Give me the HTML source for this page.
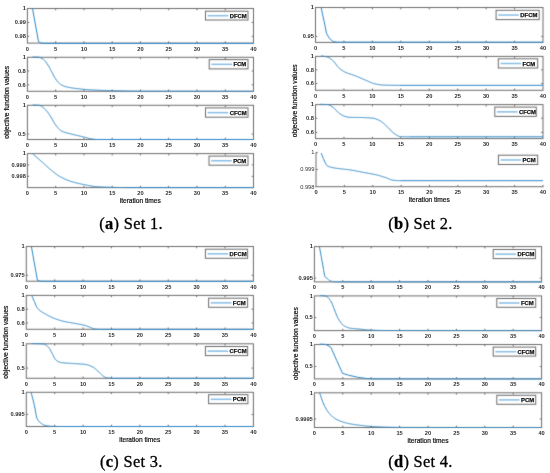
<!DOCTYPE html>
<html><head><meta charset="utf-8"><title>Objective function values vs iteration times</title>
<style>
html,body{margin:0;padding:0;background:#fff;}
body{width:550px;height:473px;overflow:hidden;position:relative;}
svg{position:absolute;left:0;top:0;}
</style></head>
<body>
<svg width="550" height="473" viewBox="0 0 550 473">
<defs><filter id="soft" x="0" y="0" width="550" height="473" filterUnits="userSpaceOnUse" color-interpolation-filters="sRGB"><feConvolveMatrix order="3" kernelMatrix="1 6 1 6 36 6 1 6 1" edgeMode="duplicate" preserveAlpha="true"/></filter></defs>
<g filter="url(#soft)">
<rect width="550" height="473" fill="#fff"/>
<rect x="27.40" y="8.50" width="226.10" height="34.60" fill="none" stroke="#6c6c6c" stroke-width="1"/>
<line x1="55.66" y1="43.10" x2="55.66" y2="41.30" stroke="#6c6c6c" stroke-width="1.0"/>
<line x1="55.66" y1="8.50" x2="55.66" y2="10.30" stroke="#6c6c6c" stroke-width="1.0"/>
<line x1="83.92" y1="43.10" x2="83.92" y2="41.30" stroke="#6c6c6c" stroke-width="1.0"/>
<line x1="83.92" y1="8.50" x2="83.92" y2="10.30" stroke="#6c6c6c" stroke-width="1.0"/>
<line x1="112.19" y1="43.10" x2="112.19" y2="41.30" stroke="#6c6c6c" stroke-width="1.0"/>
<line x1="112.19" y1="8.50" x2="112.19" y2="10.30" stroke="#6c6c6c" stroke-width="1.0"/>
<line x1="140.45" y1="43.10" x2="140.45" y2="41.30" stroke="#6c6c6c" stroke-width="1.0"/>
<line x1="140.45" y1="8.50" x2="140.45" y2="10.30" stroke="#6c6c6c" stroke-width="1.0"/>
<line x1="168.71" y1="43.10" x2="168.71" y2="41.30" stroke="#6c6c6c" stroke-width="1.0"/>
<line x1="168.71" y1="8.50" x2="168.71" y2="10.30" stroke="#6c6c6c" stroke-width="1.0"/>
<line x1="196.97" y1="43.10" x2="196.97" y2="41.30" stroke="#6c6c6c" stroke-width="1.0"/>
<line x1="196.97" y1="8.50" x2="196.97" y2="10.30" stroke="#6c6c6c" stroke-width="1.0"/>
<line x1="225.24" y1="43.10" x2="225.24" y2="41.30" stroke="#6c6c6c" stroke-width="1.0"/>
<line x1="225.24" y1="8.50" x2="225.24" y2="10.30" stroke="#6c6c6c" stroke-width="1.0"/>
<line x1="27.40" y1="22.50" x2="29.20" y2="22.50" stroke="#6c6c6c" stroke-width="1.0"/>
<line x1="253.50" y1="22.50" x2="251.70" y2="22.50" stroke="#6c6c6c" stroke-width="1.0"/>
<line x1="27.40" y1="36.30" x2="29.20" y2="36.30" stroke="#6c6c6c" stroke-width="1.0"/>
<line x1="253.50" y1="36.30" x2="251.70" y2="36.30" stroke="#6c6c6c" stroke-width="1.0"/>
<path d="M32.50,8.50 L38.50,41.60 L40.50,42.90 L43.00,43.40 L253.50,43.40" fill="none" stroke="#2a86c6" stroke-width="1.0" stroke-linejoin="round" stroke-linecap="butt"/>
<rect x="205.50" y="11.20" width="42.50" height="8.80" fill="#fff" stroke="#6c6c6c" stroke-width="1"/>
<line x1="207.70" y1="15.70" x2="228.30" y2="15.70" stroke="#86bde6" stroke-width="1.5"/>
<rect x="27.40" y="57.30" width="226.10" height="34.00" fill="none" stroke="#6c6c6c" stroke-width="1"/>
<line x1="55.66" y1="91.30" x2="55.66" y2="89.50" stroke="#6c6c6c" stroke-width="1.0"/>
<line x1="55.66" y1="57.30" x2="55.66" y2="59.10" stroke="#6c6c6c" stroke-width="1.0"/>
<line x1="83.92" y1="91.30" x2="83.92" y2="89.50" stroke="#6c6c6c" stroke-width="1.0"/>
<line x1="83.92" y1="57.30" x2="83.92" y2="59.10" stroke="#6c6c6c" stroke-width="1.0"/>
<line x1="112.19" y1="91.30" x2="112.19" y2="89.50" stroke="#6c6c6c" stroke-width="1.0"/>
<line x1="112.19" y1="57.30" x2="112.19" y2="59.10" stroke="#6c6c6c" stroke-width="1.0"/>
<line x1="140.45" y1="91.30" x2="140.45" y2="89.50" stroke="#6c6c6c" stroke-width="1.0"/>
<line x1="140.45" y1="57.30" x2="140.45" y2="59.10" stroke="#6c6c6c" stroke-width="1.0"/>
<line x1="168.71" y1="91.30" x2="168.71" y2="89.50" stroke="#6c6c6c" stroke-width="1.0"/>
<line x1="168.71" y1="57.30" x2="168.71" y2="59.10" stroke="#6c6c6c" stroke-width="1.0"/>
<line x1="196.97" y1="91.30" x2="196.97" y2="89.50" stroke="#6c6c6c" stroke-width="1.0"/>
<line x1="196.97" y1="57.30" x2="196.97" y2="59.10" stroke="#6c6c6c" stroke-width="1.0"/>
<line x1="225.24" y1="91.30" x2="225.24" y2="89.50" stroke="#6c6c6c" stroke-width="1.0"/>
<line x1="225.24" y1="57.30" x2="225.24" y2="59.10" stroke="#6c6c6c" stroke-width="1.0"/>
<line x1="27.40" y1="71.00" x2="29.20" y2="71.00" stroke="#6c6c6c" stroke-width="1.0"/>
<line x1="253.50" y1="71.00" x2="251.70" y2="71.00" stroke="#6c6c6c" stroke-width="1.0"/>
<line x1="27.40" y1="84.80" x2="29.20" y2="84.80" stroke="#6c6c6c" stroke-width="1.0"/>
<line x1="253.50" y1="84.80" x2="251.70" y2="84.80" stroke="#6c6c6c" stroke-width="1.0"/>
<path d="M32.50,57.00 L33.04,57.01 L33.58,57.02 L34.12,57.02 L34.66,57.03 L35.20,57.04 L35.74,57.05 L36.28,57.06 L36.82,57.07 L37.36,57.08 L37.90,57.10 L38.40,57.14 L38.90,57.23 L39.40,57.36 L39.90,57.53 L40.40,57.73 L40.90,57.95 L41.40,58.21 L41.90,58.49 L42.40,58.78 L42.90,59.08 L43.40,59.40 L43.90,59.77 L44.40,60.24 L44.90,60.78 L45.40,61.40 L45.90,62.07 L46.40,62.78 L46.90,63.51 L47.40,64.26 L47.90,65.00 L48.41,65.79 L48.93,66.65 L49.44,67.56 L49.96,68.50 L50.47,69.47 L50.99,70.44 L51.50,71.40 L52.06,72.48 L52.62,73.61 L53.18,74.74 L53.74,75.82 L54.30,76.80 L54.81,77.62 L55.33,78.42 L55.84,79.18 L56.36,79.90 L56.87,80.58 L57.39,81.22 L57.90,81.80 L58.41,82.35 L58.93,82.89 L59.44,83.41 L59.96,83.89 L60.47,84.32 L60.99,84.70 L61.50,85.00 L62.03,85.27 L62.57,85.51 L63.10,85.74 L63.63,85.96 L64.17,86.16 L64.70,86.34 L65.23,86.51 L65.77,86.67 L66.30,86.82 L66.83,86.95 L67.37,87.08 L67.90,87.20 L68.41,87.31 L68.91,87.41 L69.42,87.51 L69.92,87.60 L70.43,87.69 L70.93,87.78 L71.44,87.86 L71.94,87.94 L72.45,88.01 L72.96,88.09 L73.46,88.16 L73.97,88.23 L74.47,88.29 L74.98,88.36 L75.48,88.42 L75.99,88.48 L76.49,88.54 L77.00,88.60 L77.50,88.66 L78.00,88.72 L78.50,88.77 L79.00,88.83 L79.50,88.88 L80.00,88.94 L80.50,88.99 L81.00,89.05 L81.50,89.10 L82.00,89.15 L82.50,89.20 L83.00,89.25 L83.50,89.30 L84.00,89.34 L84.50,89.39 L85.00,89.43 L85.50,89.48 L86.00,89.52 L86.50,89.56 L87.00,89.60 L87.50,89.64 L88.00,89.67 L88.50,89.71 L89.00,89.74 L89.50,89.77 L90.00,89.80 L90.50,89.83 L91.00,89.86 L91.50,89.88 L92.00,89.91 L92.50,89.94 L93.00,89.96 L93.50,89.99 L94.00,90.01 L94.50,90.04 L95.00,90.06 L95.50,90.08 L96.00,90.11 L96.50,90.13 L97.00,90.15 L97.50,90.17 L98.00,90.19 L98.50,90.22 L99.00,90.24 L99.50,90.26 L100.00,90.28 L100.50,90.29 L101.00,90.31 L101.50,90.33 L102.00,90.35 L102.50,90.37 L103.00,90.39 L103.50,90.40 L104.00,90.42 L104.50,90.44 L105.00,90.45 L105.50,90.47 L106.00,90.48 L106.50,90.50 L107.00,90.51 L107.50,90.53 L108.00,90.54 L108.50,90.56 L109.00,90.57 L109.50,90.59 L110.00,90.60 L110.50,90.61 L111.00,90.63 L111.50,90.64 L112.00,90.65 L112.50,90.67 L113.00,90.68 L113.50,90.70 L114.00,90.71 L114.50,90.72 L115.00,90.74 L115.50,90.75 L116.00,90.77 L116.50,90.78 L117.00,90.79 L117.50,90.81 L118.00,90.82 L118.50,90.83 L119.00,90.85 L119.50,90.86 L120.00,90.87 L120.50,90.89 L121.00,90.90 L121.50,90.91 L122.00,90.92 L122.50,90.94 L123.00,90.95 L123.50,90.96 L124.00,90.97 L124.50,90.98 L125.00,90.99 L125.50,91.01 L126.00,91.02 L126.50,91.03 L127.00,91.04 L127.50,91.05 L128.00,91.06 L128.50,91.07 L129.00,91.08 L129.50,91.09 L130.00,91.10 L130.50,91.10 L131.00,91.11 L131.50,91.12 L132.00,91.13 L132.50,91.14 L133.00,91.14 L133.50,91.15 L134.00,91.16 L134.50,91.16 L135.00,91.17 L135.50,91.17 L136.00,91.18 L136.50,91.18 L137.00,91.19 L137.50,91.19 L138.00,91.19 L138.50,91.19 L139.00,91.20 L139.50,91.20 L140.00,91.20 L140.50,91.20 L141.00,91.20 L141.50,91.20 L142.00,91.20 L142.50,91.21 L143.00,91.21 L143.50,91.21 L144.00,91.21 L144.50,91.21 L145.00,91.21 L145.50,91.21 L146.00,91.21 L146.50,91.21 L147.00,91.21 L147.50,91.21 L148.00,91.22 L148.50,91.22 L149.00,91.22 L149.50,91.22 L150.00,91.22 L150.50,91.22 L151.00,91.22 L151.50,91.22 L152.00,91.22 L152.50,91.22 L153.00,91.22 L153.50,91.22 L154.00,91.22 L154.50,91.23 L155.00,91.23 L155.50,91.23 L156.00,91.23 L156.50,91.23 L157.00,91.23 L157.50,91.23 L158.00,91.23 L158.50,91.23 L159.00,91.23 L159.50,91.23 L160.00,91.23 L160.50,91.23 L161.00,91.23 L161.50,91.24 L162.00,91.24 L162.50,91.24 L163.00,91.24 L163.50,91.24 L164.00,91.24 L164.50,91.24 L165.00,91.24 L165.50,91.24 L166.00,91.24 L166.50,91.24 L167.00,91.24 L167.50,91.24 L168.00,91.24 L168.50,91.24 L169.00,91.24 L169.50,91.24 L170.00,91.25 L170.50,91.25 L171.00,91.25 L171.50,91.25 L172.00,91.25 L172.50,91.25 L173.00,91.25 L173.50,91.25 L174.00,91.25 L174.50,91.25 L175.00,91.25 L175.50,91.25 L176.00,91.25 L176.50,91.25 L177.00,91.25 L177.50,91.25 L178.00,91.25 L178.50,91.25 L179.00,91.25 L179.50,91.25 L180.00,91.25 L180.50,91.26 L181.00,91.26 L181.50,91.26 L182.00,91.26 L182.50,91.26 L183.00,91.26 L183.50,91.26 L184.00,91.26 L184.50,91.26 L185.00,91.26 L185.50,91.26 L186.00,91.26 L186.50,91.26 L187.00,91.26 L187.50,91.26 L188.00,91.26 L188.50,91.26 L189.00,91.26 L189.50,91.26 L190.00,91.26 L190.50,91.26 L191.00,91.26 L191.50,91.26 L192.00,91.26 L192.50,91.26 L193.00,91.26 L193.50,91.26 L194.00,91.26 L194.50,91.27 L195.00,91.27 L195.50,91.27 L196.00,91.27 L196.50,91.27 L197.00,91.27 L197.50,91.27 L198.00,91.27 L198.50,91.27 L199.00,91.27 L199.50,91.27 L200.00,91.27 L200.50,91.27 L201.00,91.27 L201.50,91.27 L202.00,91.27 L202.50,91.27 L203.00,91.27 L203.50,91.27 L204.00,91.27 L204.50,91.27 L205.00,91.27 L205.50,91.27 L206.00,91.27 L206.50,91.27 L207.00,91.27 L207.50,91.27 L208.00,91.27 L208.50,91.27 L209.00,91.27 L209.50,91.27 L210.00,91.27 L210.50,91.27 L211.00,91.27 L211.50,91.27 L212.00,91.27 L212.50,91.27 L213.00,91.28 L213.50,91.28 L214.00,91.28 L214.50,91.28 L215.00,91.28 L215.50,91.28 L216.00,91.28 L216.50,91.28 L217.00,91.28 L217.50,91.28 L218.00,91.28 L218.50,91.28 L219.00,91.28 L219.50,91.28 L220.00,91.28 L220.50,91.28 L221.00,91.28 L221.50,91.28 L222.00,91.28 L222.50,91.28 L223.00,91.28 L223.50,91.28 L224.00,91.28 L224.50,91.28 L225.00,91.28 L225.50,91.28 L226.00,91.28 L226.50,91.28 L227.00,91.28 L227.50,91.28 L228.00,91.28 L228.50,91.28 L229.00,91.28 L229.50,91.28 L230.00,91.28 L230.50,91.28 L231.00,91.28 L231.50,91.28 L232.00,91.28 L232.50,91.29 L233.00,91.29 L233.50,91.29 L234.00,91.29 L234.50,91.29 L235.00,91.29 L235.50,91.29 L236.00,91.29 L236.50,91.29 L237.00,91.29 L237.50,91.29 L238.00,91.29 L238.50,91.29 L239.00,91.29 L239.50,91.29 L240.00,91.29 L240.50,91.29 L241.00,91.29 L241.50,91.29 L242.00,91.29 L242.50,91.29 L243.00,91.29 L243.50,91.29 L244.00,91.29 L244.50,91.29 L245.00,91.29 L245.50,91.29 L246.00,91.29 L246.50,91.29 L247.00,91.29 L247.50,91.30 L248.00,91.30 L248.50,91.30 L249.00,91.30 L249.50,91.30 L250.00,91.30 L250.50,91.30 L251.00,91.30 L251.50,91.30 L252.00,91.30 L252.50,91.30 L253.00,91.30 L253.50,91.30" fill="none" stroke="#2a86c6" stroke-width="1.0" stroke-linejoin="round" stroke-linecap="butt"/>
<rect x="209.20" y="59.60" width="38.80" height="9.30" fill="#fff" stroke="#6c6c6c" stroke-width="1"/>
<line x1="211.40" y1="64.35" x2="232.00" y2="64.35" stroke="#86bde6" stroke-width="1.5"/>
<rect x="27.40" y="105.30" width="226.10" height="34.20" fill="none" stroke="#6c6c6c" stroke-width="1"/>
<line x1="55.66" y1="139.50" x2="55.66" y2="137.70" stroke="#6c6c6c" stroke-width="1.0"/>
<line x1="55.66" y1="105.30" x2="55.66" y2="107.10" stroke="#6c6c6c" stroke-width="1.0"/>
<line x1="83.92" y1="139.50" x2="83.92" y2="137.70" stroke="#6c6c6c" stroke-width="1.0"/>
<line x1="83.92" y1="105.30" x2="83.92" y2="107.10" stroke="#6c6c6c" stroke-width="1.0"/>
<line x1="112.19" y1="139.50" x2="112.19" y2="137.70" stroke="#6c6c6c" stroke-width="1.0"/>
<line x1="112.19" y1="105.30" x2="112.19" y2="107.10" stroke="#6c6c6c" stroke-width="1.0"/>
<line x1="140.45" y1="139.50" x2="140.45" y2="137.70" stroke="#6c6c6c" stroke-width="1.0"/>
<line x1="140.45" y1="105.30" x2="140.45" y2="107.10" stroke="#6c6c6c" stroke-width="1.0"/>
<line x1="168.71" y1="139.50" x2="168.71" y2="137.70" stroke="#6c6c6c" stroke-width="1.0"/>
<line x1="168.71" y1="105.30" x2="168.71" y2="107.10" stroke="#6c6c6c" stroke-width="1.0"/>
<line x1="196.97" y1="139.50" x2="196.97" y2="137.70" stroke="#6c6c6c" stroke-width="1.0"/>
<line x1="196.97" y1="105.30" x2="196.97" y2="107.10" stroke="#6c6c6c" stroke-width="1.0"/>
<line x1="225.24" y1="139.50" x2="225.24" y2="137.70" stroke="#6c6c6c" stroke-width="1.0"/>
<line x1="225.24" y1="105.30" x2="225.24" y2="107.10" stroke="#6c6c6c" stroke-width="1.0"/>
<line x1="27.40" y1="134.10" x2="29.20" y2="134.10" stroke="#6c6c6c" stroke-width="1.0"/>
<line x1="253.50" y1="134.10" x2="251.70" y2="134.10" stroke="#6c6c6c" stroke-width="1.0"/>
<path d="M32.70,105.00 L33.23,105.02 L33.77,105.04 L34.30,105.06 L34.83,105.08 L35.37,105.10 L35.90,105.11 L36.43,105.13 L36.97,105.16 L37.50,105.19 L38.03,105.22 L38.57,105.26 L39.10,105.30 L39.65,105.40 L40.20,105.58 L40.75,105.83 L41.30,106.15 L41.85,106.50 L42.40,106.89 L42.95,107.29 L43.50,107.70 L44.03,108.12 L44.57,108.61 L45.10,109.14 L45.63,109.73 L46.17,110.35 L46.70,111.02 L47.23,111.71 L47.77,112.42 L48.30,113.16 L48.83,113.90 L49.37,114.65 L49.90,115.40 L50.42,116.17 L50.94,117.00 L51.45,117.89 L51.97,118.81 L52.49,119.76 L53.01,120.70 L53.53,121.63 L54.05,122.54 L54.56,123.39 L55.08,124.19 L55.60,124.90 L56.13,125.58 L56.65,126.26 L57.18,126.94 L57.71,127.59 L58.24,128.22 L58.76,128.82 L59.29,129.37 L59.82,129.87 L60.35,130.32 L60.87,130.70 L61.40,131.00 L61.91,131.24 L62.41,131.47 L62.91,131.68 L63.42,131.88 L63.92,132.07 L64.43,132.24 L64.94,132.41 L65.44,132.56 L65.94,132.71 L66.45,132.84 L66.95,132.98 L67.46,133.11 L67.97,133.23 L68.47,133.35 L68.97,133.47 L69.48,133.59 L69.98,133.72 L70.49,133.84 L71.00,133.97 L71.50,134.10 L72.00,134.23 L72.50,134.36 L73.00,134.49 L73.50,134.61 L74.00,134.73 L74.50,134.85 L75.00,134.97 L75.50,135.09 L76.00,135.20 L76.50,135.32 L77.00,135.43 L77.50,135.54 L78.00,135.65 L78.50,135.76 L79.00,135.88 L79.50,135.99 L80.00,136.10 L80.50,136.21 L81.00,136.33 L81.50,136.44 L82.00,136.56 L82.50,136.68 L83.00,136.80 L83.51,136.93 L84.01,137.06 L84.52,137.19 L85.03,137.33 L85.53,137.47 L86.04,137.61 L86.55,137.75 L87.05,137.89 L87.56,138.03 L88.07,138.16 L88.57,138.28 L89.08,138.40 L89.59,138.51 L90.09,138.61 L90.60,138.70 L91.13,138.79 L91.67,138.88 L92.20,138.97 L92.73,139.06 L93.27,139.15 L93.80,139.23 L94.33,139.31 L94.87,139.37 L95.40,139.42 L95.93,139.47 L96.47,139.49 L97.00,139.50 L253.50,139.50" fill="none" stroke="#2a86c6" stroke-width="1.0" stroke-linejoin="round" stroke-linecap="butt"/>
<rect x="205.50" y="107.90" width="42.50" height="9.30" fill="#fff" stroke="#6c6c6c" stroke-width="1"/>
<line x1="207.70" y1="112.65" x2="228.30" y2="112.65" stroke="#86bde6" stroke-width="1.5"/>
<rect x="27.40" y="153.60" width="226.10" height="34.00" fill="none" stroke="#6c6c6c" stroke-width="1"/>
<line x1="55.66" y1="187.60" x2="55.66" y2="185.80" stroke="#6c6c6c" stroke-width="1.0"/>
<line x1="55.66" y1="153.60" x2="55.66" y2="155.40" stroke="#6c6c6c" stroke-width="1.0"/>
<line x1="83.92" y1="187.60" x2="83.92" y2="185.80" stroke="#6c6c6c" stroke-width="1.0"/>
<line x1="83.92" y1="153.60" x2="83.92" y2="155.40" stroke="#6c6c6c" stroke-width="1.0"/>
<line x1="112.19" y1="187.60" x2="112.19" y2="185.80" stroke="#6c6c6c" stroke-width="1.0"/>
<line x1="112.19" y1="153.60" x2="112.19" y2="155.40" stroke="#6c6c6c" stroke-width="1.0"/>
<line x1="140.45" y1="187.60" x2="140.45" y2="185.80" stroke="#6c6c6c" stroke-width="1.0"/>
<line x1="140.45" y1="153.60" x2="140.45" y2="155.40" stroke="#6c6c6c" stroke-width="1.0"/>
<line x1="168.71" y1="187.60" x2="168.71" y2="185.80" stroke="#6c6c6c" stroke-width="1.0"/>
<line x1="168.71" y1="153.60" x2="168.71" y2="155.40" stroke="#6c6c6c" stroke-width="1.0"/>
<line x1="196.97" y1="187.60" x2="196.97" y2="185.80" stroke="#6c6c6c" stroke-width="1.0"/>
<line x1="196.97" y1="153.60" x2="196.97" y2="155.40" stroke="#6c6c6c" stroke-width="1.0"/>
<line x1="225.24" y1="187.60" x2="225.24" y2="185.80" stroke="#6c6c6c" stroke-width="1.0"/>
<line x1="225.24" y1="153.60" x2="225.24" y2="155.40" stroke="#6c6c6c" stroke-width="1.0"/>
<line x1="27.40" y1="164.90" x2="29.20" y2="164.90" stroke="#6c6c6c" stroke-width="1.0"/>
<line x1="253.50" y1="164.90" x2="251.70" y2="164.90" stroke="#6c6c6c" stroke-width="1.0"/>
<line x1="27.40" y1="176.30" x2="29.20" y2="176.30" stroke="#6c6c6c" stroke-width="1.0"/>
<line x1="253.50" y1="176.30" x2="251.70" y2="176.30" stroke="#6c6c6c" stroke-width="1.0"/>
<path d="M32.50,153.60 L33.00,154.04 L33.50,154.48 L34.00,154.92 L34.50,155.35 L35.00,155.79 L35.50,156.23 L36.00,156.67 L36.50,157.11 L37.00,157.54 L37.50,157.98 L38.00,158.42 L38.50,158.86 L39.00,159.30 L39.50,159.74 L40.00,160.18 L40.50,160.62 L41.00,161.06 L41.50,161.50 L42.01,161.95 L42.51,162.40 L43.02,162.86 L43.52,163.32 L44.03,163.78 L44.53,164.24 L45.04,164.71 L45.54,165.17 L46.05,165.63 L46.56,166.09 L47.06,166.55 L47.57,167.00 L48.07,167.45 L48.58,167.89 L49.08,168.33 L49.59,168.76 L50.09,169.18 L50.60,169.60 L51.11,170.01 L51.61,170.43 L52.12,170.84 L52.62,171.25 L53.13,171.67 L53.63,172.08 L54.14,172.48 L54.64,172.89 L55.15,173.28 L55.66,173.67 L56.16,174.05 L56.67,174.42 L57.17,174.78 L57.68,175.13 L58.18,175.47 L58.69,175.80 L59.19,176.11 L59.70,176.40 L60.22,176.69 L60.74,176.98 L61.26,177.26 L61.78,177.53 L62.30,177.80 L62.81,178.06 L63.33,178.32 L63.85,178.57 L64.37,178.82 L64.89,179.06 L65.41,179.30 L65.93,179.52 L66.45,179.75 L66.97,179.96 L67.49,180.17 L68.00,180.38 L68.52,180.57 L69.04,180.77 L69.56,180.95 L70.08,181.13 L70.60,181.30 L71.11,181.46 L71.62,181.62 L72.14,181.78 L72.65,181.93 L73.16,182.08 L73.67,182.23 L74.18,182.37 L74.70,182.51 L75.21,182.65 L75.72,182.78 L76.23,182.91 L76.74,183.04 L77.26,183.16 L77.77,183.28 L78.28,183.40 L78.79,183.52 L79.30,183.64 L79.82,183.75 L80.33,183.86 L80.84,183.97 L81.35,184.08 L81.86,184.19 L82.38,184.29 L82.89,184.40 L83.40,184.50 L83.91,184.60 L84.42,184.70 L84.92,184.81 L85.43,184.91 L85.94,185.01 L86.45,185.11 L86.96,185.21 L87.46,185.31 L87.97,185.41 L88.48,185.51 L88.99,185.61 L89.50,185.70 L90.00,185.79 L90.51,185.88 L91.02,185.97 L91.53,186.05 L92.04,186.13 L92.54,186.20 L93.05,186.27 L93.56,186.34 L94.07,186.40 L94.58,186.46 L95.08,186.51 L95.59,186.56 L96.10,186.60 L96.60,186.64 L97.10,186.67 L97.60,186.71 L98.10,186.74 L98.60,186.78 L99.10,186.81 L99.60,186.84 L100.10,186.87 L100.60,186.90 L101.10,186.93 L101.60,186.95 L102.10,186.98 L102.60,187.01 L103.10,187.03 L103.60,187.06 L104.10,187.08 L104.60,187.10 L105.10,187.12 L105.60,187.14 L106.10,187.16 L106.60,187.18 L107.10,187.20 L107.60,187.21 L108.10,187.23 L108.60,187.25 L109.10,187.26 L109.60,187.27 L110.10,187.29 L110.60,187.30 L111.11,187.31 L111.62,187.32 L112.13,187.34 L112.64,187.35 L113.15,187.36 L113.66,187.37 L114.17,187.38 L114.68,187.40 L115.19,187.41 L115.71,187.42 L116.22,187.43 L116.73,187.44 L117.24,187.45 L117.75,187.46 L118.26,187.47 L118.77,187.48 L119.28,187.49 L119.79,187.50 L120.30,187.51 L120.81,187.52 L121.32,187.53 L121.83,187.53 L122.34,187.54 L122.85,187.55 L123.36,187.55 L123.87,187.56 L124.38,187.57 L124.89,187.57 L125.41,187.58 L125.92,187.58 L126.43,187.59 L126.94,187.59 L127.45,187.59 L127.96,187.60 L128.47,187.60 L128.98,187.60 L129.49,187.60 L130.00,187.60 L253.50,187.60" fill="none" stroke="#2a86c6" stroke-width="1.0" stroke-linejoin="round" stroke-linecap="butt"/>
<rect x="209.00" y="156.10" width="39.00" height="9.10" fill="#fff" stroke="#6c6c6c" stroke-width="1"/>
<line x1="211.20" y1="160.75" x2="231.80" y2="160.75" stroke="#86bde6" stroke-width="1.5"/>
<rect x="315.50" y="7.50" width="227.50" height="34.90" fill="none" stroke="#6c6c6c" stroke-width="1"/>
<line x1="343.94" y1="42.40" x2="343.94" y2="40.60" stroke="#6c6c6c" stroke-width="1.0"/>
<line x1="343.94" y1="7.50" x2="343.94" y2="9.30" stroke="#6c6c6c" stroke-width="1.0"/>
<line x1="372.38" y1="42.40" x2="372.38" y2="40.60" stroke="#6c6c6c" stroke-width="1.0"/>
<line x1="372.38" y1="7.50" x2="372.38" y2="9.30" stroke="#6c6c6c" stroke-width="1.0"/>
<line x1="400.81" y1="42.40" x2="400.81" y2="40.60" stroke="#6c6c6c" stroke-width="1.0"/>
<line x1="400.81" y1="7.50" x2="400.81" y2="9.30" stroke="#6c6c6c" stroke-width="1.0"/>
<line x1="429.25" y1="42.40" x2="429.25" y2="40.60" stroke="#6c6c6c" stroke-width="1.0"/>
<line x1="429.25" y1="7.50" x2="429.25" y2="9.30" stroke="#6c6c6c" stroke-width="1.0"/>
<line x1="457.69" y1="42.40" x2="457.69" y2="40.60" stroke="#6c6c6c" stroke-width="1.0"/>
<line x1="457.69" y1="7.50" x2="457.69" y2="9.30" stroke="#6c6c6c" stroke-width="1.0"/>
<line x1="486.12" y1="42.40" x2="486.12" y2="40.60" stroke="#6c6c6c" stroke-width="1.0"/>
<line x1="486.12" y1="7.50" x2="486.12" y2="9.30" stroke="#6c6c6c" stroke-width="1.0"/>
<line x1="514.56" y1="42.40" x2="514.56" y2="40.60" stroke="#6c6c6c" stroke-width="1.0"/>
<line x1="514.56" y1="7.50" x2="514.56" y2="9.30" stroke="#6c6c6c" stroke-width="1.0"/>
<line x1="315.50" y1="36.40" x2="317.30" y2="36.40" stroke="#6c6c6c" stroke-width="1.0"/>
<line x1="543.00" y1="36.40" x2="541.20" y2="36.40" stroke="#6c6c6c" stroke-width="1.0"/>
<path d="M321.20,7.80 L323.90,20.40 L326.60,33.60 L329.40,38.40 L333.20,41.60 L337.00,42.20 L543.00,42.20" fill="none" stroke="#2a86c6" stroke-width="1.0" stroke-linejoin="round" stroke-linecap="butt"/>
<rect x="496.10" y="10.30" width="43.10" height="9.30" fill="#fff" stroke="#6c6c6c" stroke-width="1"/>
<line x1="498.30" y1="15.05" x2="518.90" y2="15.05" stroke="#86bde6" stroke-width="1.5"/>
<rect x="315.50" y="56.40" width="227.50" height="33.90" fill="none" stroke="#6c6c6c" stroke-width="1"/>
<line x1="343.94" y1="90.30" x2="343.94" y2="88.50" stroke="#6c6c6c" stroke-width="1.0"/>
<line x1="343.94" y1="56.40" x2="343.94" y2="58.20" stroke="#6c6c6c" stroke-width="1.0"/>
<line x1="372.38" y1="90.30" x2="372.38" y2="88.50" stroke="#6c6c6c" stroke-width="1.0"/>
<line x1="372.38" y1="56.40" x2="372.38" y2="58.20" stroke="#6c6c6c" stroke-width="1.0"/>
<line x1="400.81" y1="90.30" x2="400.81" y2="88.50" stroke="#6c6c6c" stroke-width="1.0"/>
<line x1="400.81" y1="56.40" x2="400.81" y2="58.20" stroke="#6c6c6c" stroke-width="1.0"/>
<line x1="429.25" y1="90.30" x2="429.25" y2="88.50" stroke="#6c6c6c" stroke-width="1.0"/>
<line x1="429.25" y1="56.40" x2="429.25" y2="58.20" stroke="#6c6c6c" stroke-width="1.0"/>
<line x1="457.69" y1="90.30" x2="457.69" y2="88.50" stroke="#6c6c6c" stroke-width="1.0"/>
<line x1="457.69" y1="56.40" x2="457.69" y2="58.20" stroke="#6c6c6c" stroke-width="1.0"/>
<line x1="486.12" y1="90.30" x2="486.12" y2="88.50" stroke="#6c6c6c" stroke-width="1.0"/>
<line x1="486.12" y1="56.40" x2="486.12" y2="58.20" stroke="#6c6c6c" stroke-width="1.0"/>
<line x1="514.56" y1="90.30" x2="514.56" y2="88.50" stroke="#6c6c6c" stroke-width="1.0"/>
<line x1="514.56" y1="56.40" x2="514.56" y2="58.20" stroke="#6c6c6c" stroke-width="1.0"/>
<line x1="315.50" y1="69.80" x2="317.30" y2="69.80" stroke="#6c6c6c" stroke-width="1.0"/>
<line x1="543.00" y1="69.80" x2="541.20" y2="69.80" stroke="#6c6c6c" stroke-width="1.0"/>
<line x1="315.50" y1="83.50" x2="317.30" y2="83.50" stroke="#6c6c6c" stroke-width="1.0"/>
<line x1="543.00" y1="83.50" x2="541.20" y2="83.50" stroke="#6c6c6c" stroke-width="1.0"/>
<path d="M321.20,55.80 L321.72,55.90 L322.25,56.00 L322.77,56.09 L323.30,56.18 L323.82,56.27 L324.35,56.36 L324.88,56.46 L325.40,56.56 L325.93,56.68 L326.45,56.80 L326.98,56.94 L327.50,57.10 L328.00,57.28 L328.50,57.50 L329.00,57.75 L329.50,58.04 L330.00,58.36 L330.50,58.70 L331.00,59.07 L331.50,59.46 L332.00,59.86 L332.50,60.28 L333.00,60.70 L333.50,61.17 L334.00,61.73 L334.50,62.35 L335.00,63.02 L335.50,63.71 L336.00,64.42 L336.50,65.11 L337.00,65.79 L337.50,66.42 L338.00,67.00 L338.50,67.50 L339.02,67.97 L339.55,68.43 L340.07,68.87 L340.60,69.29 L341.12,69.69 L341.65,70.08 L342.18,70.45 L342.70,70.80 L343.23,71.13 L343.75,71.44 L344.28,71.73 L344.80,72.00 L345.30,72.24 L345.80,72.46 L346.30,72.68 L346.80,72.88 L347.30,73.07 L347.80,73.25 L348.30,73.43 L348.80,73.60 L349.30,73.77 L349.80,73.93 L350.30,74.09 L350.80,74.25 L351.30,74.40 L351.80,74.56 L352.30,74.72 L352.80,74.89 L353.30,75.05 L353.80,75.23 L354.30,75.41 L354.80,75.60 L355.32,75.80 L355.84,76.01 L356.36,76.22 L356.88,76.43 L357.40,76.65 L357.91,76.87 L358.43,77.09 L358.95,77.31 L359.47,77.54 L359.99,77.76 L360.51,77.99 L361.03,78.21 L361.55,78.44 L362.07,78.66 L362.59,78.89 L363.10,79.11 L363.62,79.33 L364.14,79.55 L364.66,79.77 L365.18,79.99 L365.70,80.20 L366.21,80.41 L366.71,80.63 L367.22,80.85 L367.72,81.08 L368.23,81.31 L368.73,81.54 L369.24,81.77 L369.74,82.00 L370.25,82.23 L370.76,82.44 L371.26,82.66 L371.77,82.86 L372.27,83.05 L372.78,83.23 L373.28,83.40 L373.79,83.55 L374.29,83.68 L374.80,83.80 L375.31,83.91 L375.81,84.01 L376.32,84.11 L376.82,84.21 L377.33,84.31 L377.83,84.40 L378.34,84.49 L378.84,84.58 L379.35,84.66 L379.86,84.74 L380.36,84.81 L380.87,84.87 L381.37,84.93 L381.88,84.98 L382.38,85.02 L382.89,85.06 L383.39,85.08 L383.90,85.10 L384.40,85.11 L384.91,85.12 L385.41,85.14 L385.91,85.15 L386.42,85.16 L386.92,85.17 L387.42,85.18 L387.92,85.19 L388.43,85.20 L388.93,85.21 L389.43,85.21 L389.94,85.22 L390.44,85.23 L390.94,85.24 L391.45,85.24 L391.95,85.25 L392.45,85.26 L392.96,85.26 L393.46,85.27 L393.96,85.27 L394.47,85.28 L394.97,85.28 L395.47,85.28 L395.98,85.29 L396.48,85.29 L396.98,85.29 L397.48,85.30 L397.99,85.30 L398.49,85.30 L398.99,85.30 L399.50,85.30 L400.00,85.30 L543.00,85.30" fill="none" stroke="#2a86c6" stroke-width="1.0" stroke-linejoin="round" stroke-linecap="butt"/>
<rect x="498.30" y="58.80" width="39.40" height="9.20" fill="#fff" stroke="#6c6c6c" stroke-width="1"/>
<line x1="500.50" y1="63.50" x2="521.10" y2="63.50" stroke="#86bde6" stroke-width="1.5"/>
<rect x="315.50" y="104.60" width="227.50" height="34.00" fill="none" stroke="#6c6c6c" stroke-width="1"/>
<line x1="343.94" y1="138.60" x2="343.94" y2="136.80" stroke="#6c6c6c" stroke-width="1.0"/>
<line x1="343.94" y1="104.60" x2="343.94" y2="106.40" stroke="#6c6c6c" stroke-width="1.0"/>
<line x1="372.38" y1="138.60" x2="372.38" y2="136.80" stroke="#6c6c6c" stroke-width="1.0"/>
<line x1="372.38" y1="104.60" x2="372.38" y2="106.40" stroke="#6c6c6c" stroke-width="1.0"/>
<line x1="400.81" y1="138.60" x2="400.81" y2="136.80" stroke="#6c6c6c" stroke-width="1.0"/>
<line x1="400.81" y1="104.60" x2="400.81" y2="106.40" stroke="#6c6c6c" stroke-width="1.0"/>
<line x1="429.25" y1="138.60" x2="429.25" y2="136.80" stroke="#6c6c6c" stroke-width="1.0"/>
<line x1="429.25" y1="104.60" x2="429.25" y2="106.40" stroke="#6c6c6c" stroke-width="1.0"/>
<line x1="457.69" y1="138.60" x2="457.69" y2="136.80" stroke="#6c6c6c" stroke-width="1.0"/>
<line x1="457.69" y1="104.60" x2="457.69" y2="106.40" stroke="#6c6c6c" stroke-width="1.0"/>
<line x1="486.12" y1="138.60" x2="486.12" y2="136.80" stroke="#6c6c6c" stroke-width="1.0"/>
<line x1="486.12" y1="104.60" x2="486.12" y2="106.40" stroke="#6c6c6c" stroke-width="1.0"/>
<line x1="514.56" y1="138.60" x2="514.56" y2="136.80" stroke="#6c6c6c" stroke-width="1.0"/>
<line x1="514.56" y1="104.60" x2="514.56" y2="106.40" stroke="#6c6c6c" stroke-width="1.0"/>
<line x1="315.50" y1="118.20" x2="317.30" y2="118.20" stroke="#6c6c6c" stroke-width="1.0"/>
<line x1="543.00" y1="118.20" x2="541.20" y2="118.20" stroke="#6c6c6c" stroke-width="1.0"/>
<line x1="315.50" y1="132.40" x2="317.30" y2="132.40" stroke="#6c6c6c" stroke-width="1.0"/>
<line x1="543.00" y1="132.40" x2="541.20" y2="132.40" stroke="#6c6c6c" stroke-width="1.0"/>
<path d="M320.30,104.30 L320.81,104.32 L321.33,104.34 L321.84,104.35 L322.36,104.37 L322.87,104.38 L323.39,104.40 L323.90,104.42 L324.41,104.43 L324.93,104.45 L325.44,104.47 L325.96,104.50 L326.47,104.53 L326.99,104.56 L327.50,104.60 L328.00,104.67 L328.50,104.79 L329.00,104.96 L329.50,105.17 L330.00,105.42 L330.50,105.70 L331.00,106.00 L331.50,106.31 L332.00,106.64 L332.50,106.97 L333.00,107.30 L333.50,107.67 L334.00,108.10 L334.50,108.58 L335.00,109.10 L335.50,109.65 L336.00,110.21 L336.50,110.77 L337.00,111.31 L337.50,111.82 L338.00,112.29 L338.50,112.70 L339.04,113.11 L339.58,113.50 L340.12,113.89 L340.66,114.27 L341.20,114.63 L341.74,114.96 L342.28,115.27 L342.82,115.55 L343.36,115.79 L343.90,116.00 L344.40,116.17 L344.90,116.34 L345.40,116.50 L345.90,116.65 L346.40,116.79 L346.90,116.92 L347.40,117.04 L347.90,117.13 L348.40,117.21 L348.90,117.27 L349.40,117.30 L349.92,117.32 L350.44,117.33 L350.96,117.35 L351.48,117.36 L352.00,117.37 L352.51,117.38 L353.03,117.39 L353.55,117.40 L354.07,117.40 L354.59,117.41 L355.11,117.42 L355.63,117.42 L356.15,117.43 L356.67,117.43 L357.19,117.44 L357.70,117.45 L358.22,117.46 L358.74,117.46 L359.26,117.48 L359.78,117.49 L360.30,117.50 L360.81,117.51 L361.32,117.53 L361.82,117.54 L362.33,117.56 L362.84,117.57 L363.35,117.59 L363.86,117.61 L364.36,117.63 L364.87,117.65 L365.38,117.67 L365.89,117.69 L366.40,117.72 L366.90,117.74 L367.41,117.77 L367.92,117.80 L368.43,117.83 L368.94,117.86 L369.44,117.89 L369.95,117.93 L370.46,117.97 L370.97,118.01 L371.48,118.05 L371.98,118.10 L372.49,118.15 L373.00,118.20 L373.50,118.27 L374.00,118.36 L374.50,118.48 L375.00,118.62 L375.50,118.78 L376.00,118.96 L376.50,119.15 L377.00,119.35 L377.50,119.56 L378.00,119.78 L378.50,120.00 L379.04,120.25 L379.58,120.54 L380.12,120.85 L380.66,121.19 L381.20,121.56 L381.74,121.94 L382.28,122.34 L382.82,122.75 L383.36,123.17 L383.90,123.60 L384.40,124.02 L384.90,124.48 L385.40,124.96 L385.90,125.47 L386.40,125.99 L386.90,126.53 L387.40,127.06 L387.90,127.59 L388.40,128.11 L388.90,128.62 L389.40,129.10 L389.92,129.60 L390.45,130.10 L390.97,130.62 L391.50,131.13 L392.02,131.64 L392.55,132.14 L393.07,132.62 L393.60,133.08 L394.12,133.51 L394.65,133.91 L395.18,134.28 L395.70,134.60 L396.21,134.90 L396.72,135.20 L397.23,135.49 L397.74,135.77 L398.26,136.03 L398.77,136.25 L399.28,136.42 L399.79,136.54 L400.30,136.60 L400.81,136.62 L401.32,136.64 L401.83,136.66 L402.34,136.68 L402.85,136.70 L403.36,136.71 L403.87,136.72 L404.38,136.74 L404.89,136.75 L405.41,136.76 L405.92,136.77 L406.43,136.78 L406.94,136.78 L407.45,136.79 L407.96,136.79 L408.47,136.80 L408.98,136.80 L409.49,136.80 L410.00,136.80 L543.00,136.80" fill="none" stroke="#2a86c6" stroke-width="1.0" stroke-linejoin="round" stroke-linecap="butt"/>
<rect x="494.80" y="107.10" width="41.50" height="9.30" fill="#fff" stroke="#6c6c6c" stroke-width="1"/>
<line x1="497.00" y1="111.85" x2="517.60" y2="111.85" stroke="#86bde6" stroke-width="1.5"/>
<line x1="316.00" y1="152.10" x2="316.00" y2="187.20" stroke="#6c6c6c" stroke-width="1.0"/>
<line x1="315.50" y1="186.70" x2="543.50" y2="186.70" stroke="#6c6c6c" stroke-width="1.0"/>
<line x1="344.38" y1="186.70" x2="344.38" y2="184.90" stroke="#6c6c6c" stroke-width="1.0"/>
<line x1="372.75" y1="186.70" x2="372.75" y2="184.90" stroke="#6c6c6c" stroke-width="1.0"/>
<line x1="401.12" y1="186.70" x2="401.12" y2="184.90" stroke="#6c6c6c" stroke-width="1.0"/>
<line x1="429.50" y1="186.70" x2="429.50" y2="184.90" stroke="#6c6c6c" stroke-width="1.0"/>
<line x1="457.88" y1="186.70" x2="457.88" y2="184.90" stroke="#6c6c6c" stroke-width="1.0"/>
<line x1="486.25" y1="186.70" x2="486.25" y2="184.90" stroke="#6c6c6c" stroke-width="1.0"/>
<line x1="514.62" y1="186.70" x2="514.62" y2="184.90" stroke="#6c6c6c" stroke-width="1.0"/>
<line x1="543.00" y1="186.70" x2="543.00" y2="184.90" stroke="#6c6c6c" stroke-width="1.0"/>
<line x1="316.00" y1="152.60" x2="317.80" y2="152.60" stroke="#6c6c6c" stroke-width="1.0"/>
<line x1="316.00" y1="169.50" x2="317.80" y2="169.50" stroke="#6c6c6c" stroke-width="1.0"/>
<path d="M321.20,153.10 L321.74,154.47 L322.28,155.88 L322.82,157.26 L323.36,158.59 L323.90,159.80 L324.45,161.01 L325.00,162.25 L325.55,163.44 L326.10,164.49 L326.65,165.31 L327.20,165.80 L327.71,166.07 L328.21,166.31 L328.72,166.52 L329.23,166.72 L329.73,166.89 L330.24,167.05 L330.75,167.19 L331.25,167.32 L331.76,167.43 L332.27,167.54 L332.77,167.64 L333.28,167.73 L333.79,167.82 L334.29,167.91 L334.80,168.00 L335.30,168.09 L335.81,168.17 L336.31,168.25 L336.81,168.33 L337.32,168.40 L337.82,168.47 L338.32,168.53 L338.83,168.60 L339.33,168.66 L339.83,168.72 L340.34,168.77 L340.84,168.83 L341.34,168.88 L341.85,168.93 L342.35,168.98 L342.86,169.04 L343.36,169.09 L343.86,169.14 L344.37,169.19 L344.87,169.24 L345.37,169.30 L345.88,169.35 L346.38,169.41 L346.88,169.47 L347.39,169.53 L347.89,169.59 L348.39,169.66 L348.90,169.73 L349.40,169.80 L349.90,169.88 L350.40,169.95 L350.90,170.03 L351.40,170.12 L351.90,170.20 L352.40,170.29 L352.90,170.37 L353.40,170.46 L353.90,170.56 L354.40,170.65 L354.90,170.74 L355.40,170.84 L355.90,170.93 L356.40,171.03 L356.90,171.13 L357.40,171.23 L357.90,171.32 L358.40,171.42 L358.90,171.52 L359.40,171.62 L359.90,171.72 L360.40,171.82 L360.90,171.92 L361.40,172.02 L361.90,172.12 L362.40,172.21 L362.90,172.31 L363.40,172.41 L363.90,172.50 L364.41,172.59 L364.92,172.69 L365.42,172.78 L365.93,172.87 L366.44,172.96 L366.95,173.05 L367.46,173.14 L367.96,173.23 L368.47,173.31 L368.98,173.40 L369.49,173.49 L370.00,173.58 L370.50,173.67 L371.01,173.76 L371.52,173.86 L372.03,173.95 L372.54,174.05 L373.04,174.14 L373.55,174.24 L374.06,174.35 L374.57,174.45 L375.08,174.56 L375.58,174.67 L376.09,174.78 L376.60,174.90 L377.11,175.02 L377.61,175.15 L378.12,175.28 L378.62,175.41 L379.13,175.55 L379.63,175.70 L380.14,175.84 L380.64,175.99 L381.15,176.15 L381.66,176.30 L382.16,176.46 L382.67,176.62 L383.17,176.78 L383.68,176.94 L384.18,177.11 L384.69,177.27 L385.19,177.44 L385.70,177.60 L386.22,177.78 L386.74,177.98 L387.26,178.19 L387.79,178.41 L388.31,178.64 L388.83,178.87 L389.35,179.09 L389.87,179.31 L390.39,179.51 L390.91,179.70 L391.44,179.87 L391.96,180.01 L392.48,180.12 L393.00,180.20 L393.52,180.26 L394.04,180.32 L394.56,180.37 L395.09,180.42 L395.61,180.47 L396.13,180.51 L396.65,180.55 L397.17,180.59 L397.69,180.62 L398.21,180.65 L398.74,180.67 L399.26,180.69 L399.78,180.70 L400.30,180.70 L543.00,180.70" fill="none" stroke="#2a86c6" stroke-width="1.0" stroke-linejoin="round" stroke-linecap="butt"/>
<rect x="498.40" y="155.20" width="39.30" height="9.30" fill="#fff" stroke="#6c6c6c" stroke-width="1"/>
<line x1="500.60" y1="159.95" x2="521.20" y2="159.95" stroke="#86bde6" stroke-width="1.5"/>
<rect x="26.30" y="246.50" width="227.10" height="34.70" fill="none" stroke="#6c6c6c" stroke-width="1"/>
<line x1="54.69" y1="281.20" x2="54.69" y2="279.40" stroke="#6c6c6c" stroke-width="1.0"/>
<line x1="54.69" y1="246.50" x2="54.69" y2="248.30" stroke="#6c6c6c" stroke-width="1.0"/>
<line x1="83.08" y1="281.20" x2="83.08" y2="279.40" stroke="#6c6c6c" stroke-width="1.0"/>
<line x1="83.08" y1="246.50" x2="83.08" y2="248.30" stroke="#6c6c6c" stroke-width="1.0"/>
<line x1="111.46" y1="281.20" x2="111.46" y2="279.40" stroke="#6c6c6c" stroke-width="1.0"/>
<line x1="111.46" y1="246.50" x2="111.46" y2="248.30" stroke="#6c6c6c" stroke-width="1.0"/>
<line x1="139.85" y1="281.20" x2="139.85" y2="279.40" stroke="#6c6c6c" stroke-width="1.0"/>
<line x1="139.85" y1="246.50" x2="139.85" y2="248.30" stroke="#6c6c6c" stroke-width="1.0"/>
<line x1="168.24" y1="281.20" x2="168.24" y2="279.40" stroke="#6c6c6c" stroke-width="1.0"/>
<line x1="168.24" y1="246.50" x2="168.24" y2="248.30" stroke="#6c6c6c" stroke-width="1.0"/>
<line x1="196.62" y1="281.20" x2="196.62" y2="279.40" stroke="#6c6c6c" stroke-width="1.0"/>
<line x1="196.62" y1="246.50" x2="196.62" y2="248.30" stroke="#6c6c6c" stroke-width="1.0"/>
<line x1="225.01" y1="281.20" x2="225.01" y2="279.40" stroke="#6c6c6c" stroke-width="1.0"/>
<line x1="225.01" y1="246.50" x2="225.01" y2="248.30" stroke="#6c6c6c" stroke-width="1.0"/>
<line x1="26.30" y1="275.30" x2="28.10" y2="275.30" stroke="#6c6c6c" stroke-width="1.0"/>
<line x1="253.40" y1="275.30" x2="251.60" y2="275.30" stroke="#6c6c6c" stroke-width="1.0"/>
<path d="M31.40,246.50 L37.40,280.20 L39.50,281.00 L42.00,281.30 L253.40,281.30" fill="none" stroke="#2a86c6" stroke-width="1.0" stroke-linejoin="round" stroke-linecap="butt"/>
<rect x="205.40" y="249.20" width="42.20" height="9.10" fill="#fff" stroke="#6c6c6c" stroke-width="1"/>
<line x1="207.60" y1="253.85" x2="228.20" y2="253.85" stroke="#86bde6" stroke-width="1.5"/>
<rect x="26.30" y="295.40" width="227.10" height="33.90" fill="none" stroke="#6c6c6c" stroke-width="1"/>
<line x1="54.69" y1="329.30" x2="54.69" y2="327.50" stroke="#6c6c6c" stroke-width="1.0"/>
<line x1="54.69" y1="295.40" x2="54.69" y2="297.20" stroke="#6c6c6c" stroke-width="1.0"/>
<line x1="83.08" y1="329.30" x2="83.08" y2="327.50" stroke="#6c6c6c" stroke-width="1.0"/>
<line x1="83.08" y1="295.40" x2="83.08" y2="297.20" stroke="#6c6c6c" stroke-width="1.0"/>
<line x1="111.46" y1="329.30" x2="111.46" y2="327.50" stroke="#6c6c6c" stroke-width="1.0"/>
<line x1="111.46" y1="295.40" x2="111.46" y2="297.20" stroke="#6c6c6c" stroke-width="1.0"/>
<line x1="139.85" y1="329.30" x2="139.85" y2="327.50" stroke="#6c6c6c" stroke-width="1.0"/>
<line x1="139.85" y1="295.40" x2="139.85" y2="297.20" stroke="#6c6c6c" stroke-width="1.0"/>
<line x1="168.24" y1="329.30" x2="168.24" y2="327.50" stroke="#6c6c6c" stroke-width="1.0"/>
<line x1="168.24" y1="295.40" x2="168.24" y2="297.20" stroke="#6c6c6c" stroke-width="1.0"/>
<line x1="196.62" y1="329.30" x2="196.62" y2="327.50" stroke="#6c6c6c" stroke-width="1.0"/>
<line x1="196.62" y1="295.40" x2="196.62" y2="297.20" stroke="#6c6c6c" stroke-width="1.0"/>
<line x1="225.01" y1="329.30" x2="225.01" y2="327.50" stroke="#6c6c6c" stroke-width="1.0"/>
<line x1="225.01" y1="295.40" x2="225.01" y2="297.20" stroke="#6c6c6c" stroke-width="1.0"/>
<line x1="26.30" y1="309.20" x2="28.10" y2="309.20" stroke="#6c6c6c" stroke-width="1.0"/>
<line x1="253.40" y1="309.20" x2="251.60" y2="309.20" stroke="#6c6c6c" stroke-width="1.0"/>
<line x1="26.30" y1="323.00" x2="28.10" y2="323.00" stroke="#6c6c6c" stroke-width="1.0"/>
<line x1="253.40" y1="323.00" x2="251.60" y2="323.00" stroke="#6c6c6c" stroke-width="1.0"/>
<path d="M31.60,295.00 L32.15,296.31 L32.70,297.64 L33.25,298.97 L33.80,300.28 L34.35,301.56 L34.90,302.80 L35.44,304.04 L35.98,305.32 L36.52,306.54 L37.06,307.60 L37.60,308.40 L38.13,309.00 L38.67,309.54 L39.20,310.02 L39.73,310.47 L40.27,310.87 L40.80,311.25 L41.33,311.60 L41.87,311.93 L42.40,312.25 L42.93,312.56 L43.47,312.88 L44.00,313.20 L44.51,313.51 L45.01,313.82 L45.52,314.12 L46.02,314.41 L46.53,314.70 L47.03,314.98 L47.54,315.26 L48.04,315.53 L48.55,315.80 L49.06,316.06 L49.56,316.31 L50.07,316.56 L50.57,316.80 L51.08,317.04 L51.58,317.26 L52.09,317.48 L52.59,317.69 L53.10,317.90 L53.62,318.11 L54.14,318.31 L54.66,318.51 L55.18,318.70 L55.70,318.89 L56.21,319.08 L56.73,319.26 L57.25,319.44 L57.77,319.62 L58.29,319.79 L58.81,319.96 L59.33,320.12 L59.85,320.28 L60.37,320.44 L60.89,320.59 L61.40,320.74 L61.92,320.88 L62.44,321.01 L62.96,321.15 L63.48,321.28 L64.00,321.40 L64.52,321.52 L65.04,321.63 L65.56,321.74 L66.08,321.85 L66.60,321.95 L67.11,322.05 L67.63,322.14 L68.15,322.23 L68.67,322.33 L69.19,322.41 L69.71,322.50 L70.23,322.59 L70.75,322.68 L71.27,322.76 L71.79,322.85 L72.30,322.94 L72.82,323.03 L73.34,323.12 L73.86,323.21 L74.38,323.30 L74.90,323.40 L75.41,323.50 L75.91,323.59 L76.42,323.68 L76.92,323.77 L77.43,323.86 L77.93,323.95 L78.44,324.05 L78.94,324.14 L79.45,324.23 L79.96,324.33 L80.46,324.42 L80.97,324.52 L81.47,324.63 L81.98,324.73 L82.48,324.84 L82.99,324.96 L83.49,325.08 L84.00,325.20 L84.50,325.33 L85.00,325.47 L85.50,325.62 L86.00,325.78 L86.50,325.94 L87.00,326.11 L87.50,326.28 L88.00,326.46 L88.50,326.64 L89.00,326.82 L89.50,327.00 L90.00,327.20 L90.50,327.42 L91.00,327.66 L91.50,327.90 L92.00,328.14 L92.50,328.36 L93.00,328.55 L93.50,328.70 L94.00,328.80 L94.50,328.87 L95.00,328.94 L95.50,329.00 L96.00,329.06 L96.50,329.11 L97.00,329.16 L97.50,329.20 L98.00,329.23 L98.50,329.26 L99.00,329.28 L99.50,329.30 L100.00,329.30 L253.40,329.30" fill="none" stroke="#2a86c6" stroke-width="1.0" stroke-linejoin="round" stroke-linecap="butt"/>
<rect x="208.60" y="298.20" width="39.00" height="9.10" fill="#fff" stroke="#6c6c6c" stroke-width="1"/>
<line x1="210.80" y1="302.85" x2="231.40" y2="302.85" stroke="#86bde6" stroke-width="1.5"/>
<rect x="26.30" y="343.80" width="227.10" height="34.50" fill="none" stroke="#6c6c6c" stroke-width="1"/>
<line x1="54.69" y1="378.30" x2="54.69" y2="376.50" stroke="#6c6c6c" stroke-width="1.0"/>
<line x1="54.69" y1="343.80" x2="54.69" y2="345.60" stroke="#6c6c6c" stroke-width="1.0"/>
<line x1="83.08" y1="378.30" x2="83.08" y2="376.50" stroke="#6c6c6c" stroke-width="1.0"/>
<line x1="83.08" y1="343.80" x2="83.08" y2="345.60" stroke="#6c6c6c" stroke-width="1.0"/>
<line x1="111.46" y1="378.30" x2="111.46" y2="376.50" stroke="#6c6c6c" stroke-width="1.0"/>
<line x1="111.46" y1="343.80" x2="111.46" y2="345.60" stroke="#6c6c6c" stroke-width="1.0"/>
<line x1="139.85" y1="378.30" x2="139.85" y2="376.50" stroke="#6c6c6c" stroke-width="1.0"/>
<line x1="139.85" y1="343.80" x2="139.85" y2="345.60" stroke="#6c6c6c" stroke-width="1.0"/>
<line x1="168.24" y1="378.30" x2="168.24" y2="376.50" stroke="#6c6c6c" stroke-width="1.0"/>
<line x1="168.24" y1="343.80" x2="168.24" y2="345.60" stroke="#6c6c6c" stroke-width="1.0"/>
<line x1="196.62" y1="378.30" x2="196.62" y2="376.50" stroke="#6c6c6c" stroke-width="1.0"/>
<line x1="196.62" y1="343.80" x2="196.62" y2="345.60" stroke="#6c6c6c" stroke-width="1.0"/>
<line x1="225.01" y1="378.30" x2="225.01" y2="376.50" stroke="#6c6c6c" stroke-width="1.0"/>
<line x1="225.01" y1="343.80" x2="225.01" y2="345.60" stroke="#6c6c6c" stroke-width="1.0"/>
<line x1="26.30" y1="368.10" x2="28.10" y2="368.10" stroke="#6c6c6c" stroke-width="1.0"/>
<line x1="253.40" y1="368.10" x2="251.60" y2="368.10" stroke="#6c6c6c" stroke-width="1.0"/>
<path d="M31.60,343.50 L32.10,343.52 L32.60,343.53 L33.10,343.55 L33.60,343.56 L34.10,343.57 L34.60,343.58 L35.10,343.59 L35.60,343.60 L36.10,343.61 L36.60,343.63 L37.10,343.64 L37.60,343.65 L38.10,343.66 L38.60,343.68 L39.10,343.69 L39.60,343.71 L40.10,343.73 L40.60,343.75 L41.10,343.78 L41.60,343.80 L42.10,343.83 L42.60,343.86 L43.10,343.90 L43.64,343.98 L44.18,344.13 L44.72,344.36 L45.26,344.64 L45.80,344.97 L46.34,345.36 L46.88,345.78 L47.42,346.23 L47.96,346.71 L48.50,347.20 L49.03,347.80 L49.56,348.57 L50.09,349.48 L50.61,350.48 L51.14,351.51 L51.67,352.54 L52.20,353.50 L52.71,354.46 L53.23,355.51 L53.74,356.59 L54.26,357.63 L54.77,358.58 L55.29,359.35 L55.80,359.90 L56.30,360.29 L56.80,360.65 L57.30,360.98 L57.80,361.29 L58.30,361.57 L58.80,361.82 L59.30,362.04 L59.80,362.23 L60.30,362.38 L60.80,362.51 L61.30,362.60 L61.80,362.67 L62.30,362.74 L62.80,362.79 L63.30,362.85 L63.80,362.90 L64.30,362.94 L64.80,362.98 L65.30,363.02 L65.80,363.05 L66.30,363.09 L66.80,363.12 L67.30,363.15 L67.80,363.18 L68.30,363.21 L68.80,363.23 L69.30,363.26 L69.80,363.30 L70.30,363.33 L70.80,363.36 L71.30,363.40 L71.80,363.44 L72.30,363.47 L72.80,363.51 L73.30,363.54 L73.80,363.57 L74.30,363.60 L74.80,363.63 L75.30,363.66 L75.80,363.69 L76.30,363.72 L76.80,363.74 L77.30,363.77 L77.80,363.80 L78.30,363.83 L78.80,363.86 L79.30,363.89 L79.80,363.92 L80.30,363.96 L80.80,363.99 L81.30,364.03 L81.80,364.07 L82.30,364.12 L82.80,364.16 L83.30,364.21 L83.80,364.26 L84.30,364.31 L84.80,364.37 L85.30,364.43 L85.80,364.50 L86.32,364.58 L86.84,364.69 L87.36,364.81 L87.89,364.96 L88.41,365.12 L88.93,365.30 L89.45,365.50 L89.97,365.71 L90.49,365.93 L91.01,366.17 L91.54,366.41 L92.06,366.67 L92.58,366.93 L93.10,367.20 L93.64,367.51 L94.18,367.88 L94.72,368.29 L95.26,368.74 L95.80,369.22 L96.34,369.72 L96.88,370.22 L97.42,370.73 L97.96,371.22 L98.50,371.70 L99.00,372.15 L99.50,372.63 L100.00,373.12 L100.50,373.63 L101.00,374.13 L101.50,374.62 L102.00,375.10 L102.50,375.54 L103.00,375.95 L103.50,376.30 L104.00,376.60 L104.51,376.87 L105.03,377.14 L105.54,377.39 L106.06,377.61 L106.57,377.79 L107.09,377.93 L107.60,378.00 L108.13,378.04 L108.66,378.08 L109.19,378.11 L109.71,378.15 L110.24,378.18 L110.77,378.20 L111.30,378.22 L111.83,378.24 L112.36,378.26 L112.89,378.28 L113.41,378.29 L113.94,378.29 L114.47,378.30 L115.00,378.30 L253.40,378.30" fill="none" stroke="#2a86c6" stroke-width="1.0" stroke-linejoin="round" stroke-linecap="butt"/>
<rect x="205.40" y="346.50" width="42.20" height="9.10" fill="#fff" stroke="#6c6c6c" stroke-width="1"/>
<line x1="207.60" y1="351.15" x2="228.20" y2="351.15" stroke="#86bde6" stroke-width="1.5"/>
<rect x="26.30" y="392.30" width="227.10" height="34.20" fill="none" stroke="#6c6c6c" stroke-width="1"/>
<line x1="54.69" y1="426.50" x2="54.69" y2="424.70" stroke="#6c6c6c" stroke-width="1.0"/>
<line x1="54.69" y1="392.30" x2="54.69" y2="394.10" stroke="#6c6c6c" stroke-width="1.0"/>
<line x1="83.08" y1="426.50" x2="83.08" y2="424.70" stroke="#6c6c6c" stroke-width="1.0"/>
<line x1="83.08" y1="392.30" x2="83.08" y2="394.10" stroke="#6c6c6c" stroke-width="1.0"/>
<line x1="111.46" y1="426.50" x2="111.46" y2="424.70" stroke="#6c6c6c" stroke-width="1.0"/>
<line x1="111.46" y1="392.30" x2="111.46" y2="394.10" stroke="#6c6c6c" stroke-width="1.0"/>
<line x1="139.85" y1="426.50" x2="139.85" y2="424.70" stroke="#6c6c6c" stroke-width="1.0"/>
<line x1="139.85" y1="392.30" x2="139.85" y2="394.10" stroke="#6c6c6c" stroke-width="1.0"/>
<line x1="168.24" y1="426.50" x2="168.24" y2="424.70" stroke="#6c6c6c" stroke-width="1.0"/>
<line x1="168.24" y1="392.30" x2="168.24" y2="394.10" stroke="#6c6c6c" stroke-width="1.0"/>
<line x1="196.62" y1="426.50" x2="196.62" y2="424.70" stroke="#6c6c6c" stroke-width="1.0"/>
<line x1="196.62" y1="392.30" x2="196.62" y2="394.10" stroke="#6c6c6c" stroke-width="1.0"/>
<line x1="225.01" y1="426.50" x2="225.01" y2="424.70" stroke="#6c6c6c" stroke-width="1.0"/>
<line x1="225.01" y1="392.30" x2="225.01" y2="394.10" stroke="#6c6c6c" stroke-width="1.0"/>
<line x1="26.30" y1="414.40" x2="28.10" y2="414.40" stroke="#6c6c6c" stroke-width="1.0"/>
<line x1="253.40" y1="414.40" x2="251.60" y2="414.40" stroke="#6c6c6c" stroke-width="1.0"/>
<path d="M31.10,392.40 L31.65,394.53 L32.20,396.63 L32.75,398.72 L33.30,400.85 L33.85,403.07 L34.40,405.40 L34.94,408.11 L35.48,411.22 L36.02,414.30 L36.56,416.91 L37.10,418.60 L37.65,419.61 L38.20,420.45 L38.75,421.14 L39.30,421.73 L39.85,422.24 L40.40,422.70 L40.94,423.14 L41.48,423.55 L42.01,423.95 L42.55,424.31 L43.09,424.63 L43.62,424.91 L44.16,425.13 L44.70,425.30 L45.21,425.42 L45.72,425.54 L46.22,425.65 L46.73,425.75 L47.24,425.85 L47.75,425.93 L48.25,426.01 L48.76,426.08 L49.27,426.14 L49.78,426.20 L50.28,426.24 L50.79,426.27 L51.30,426.30 L51.81,426.32 L52.32,426.34 L52.84,426.36 L53.35,426.38 L53.86,426.39 L54.37,426.41 L54.88,426.43 L55.39,426.44 L55.91,426.45 L56.42,426.46 L56.93,426.47 L57.44,426.48 L57.95,426.49 L58.46,426.49 L58.98,426.50 L59.49,426.50 L60.00,426.50 L253.40,426.50" fill="none" stroke="#2a86c6" stroke-width="1.0" stroke-linejoin="round" stroke-linecap="butt"/>
<rect x="208.60" y="394.70" width="39.30" height="9.00" fill="#fff" stroke="#6c6c6c" stroke-width="1"/>
<line x1="210.80" y1="399.30" x2="231.40" y2="399.30" stroke="#86bde6" stroke-width="1.5"/>
<rect x="314.40" y="246.60" width="227.20" height="35.30" fill="none" stroke="#6c6c6c" stroke-width="1"/>
<line x1="342.80" y1="281.90" x2="342.80" y2="280.10" stroke="#6c6c6c" stroke-width="1.0"/>
<line x1="342.80" y1="246.60" x2="342.80" y2="248.40" stroke="#6c6c6c" stroke-width="1.0"/>
<line x1="371.20" y1="281.90" x2="371.20" y2="280.10" stroke="#6c6c6c" stroke-width="1.0"/>
<line x1="371.20" y1="246.60" x2="371.20" y2="248.40" stroke="#6c6c6c" stroke-width="1.0"/>
<line x1="399.60" y1="281.90" x2="399.60" y2="280.10" stroke="#6c6c6c" stroke-width="1.0"/>
<line x1="399.60" y1="246.60" x2="399.60" y2="248.40" stroke="#6c6c6c" stroke-width="1.0"/>
<line x1="428.00" y1="281.90" x2="428.00" y2="280.10" stroke="#6c6c6c" stroke-width="1.0"/>
<line x1="428.00" y1="246.60" x2="428.00" y2="248.40" stroke="#6c6c6c" stroke-width="1.0"/>
<line x1="456.40" y1="281.90" x2="456.40" y2="280.10" stroke="#6c6c6c" stroke-width="1.0"/>
<line x1="456.40" y1="246.60" x2="456.40" y2="248.40" stroke="#6c6c6c" stroke-width="1.0"/>
<line x1="484.80" y1="281.90" x2="484.80" y2="280.10" stroke="#6c6c6c" stroke-width="1.0"/>
<line x1="484.80" y1="246.60" x2="484.80" y2="248.40" stroke="#6c6c6c" stroke-width="1.0"/>
<line x1="513.20" y1="281.90" x2="513.20" y2="280.10" stroke="#6c6c6c" stroke-width="1.0"/>
<line x1="513.20" y1="246.60" x2="513.20" y2="248.40" stroke="#6c6c6c" stroke-width="1.0"/>
<line x1="314.40" y1="278.10" x2="316.20" y2="278.10" stroke="#6c6c6c" stroke-width="1.0"/>
<line x1="541.60" y1="278.10" x2="539.80" y2="278.10" stroke="#6c6c6c" stroke-width="1.0"/>
<path d="M319.40,246.60 L319.90,249.33 L320.40,252.08 L320.90,254.83 L321.40,257.56 L321.90,260.26 L322.40,262.90 L322.96,266.12 L323.52,269.61 L324.08,272.91 L324.64,275.53 L325.20,277.00 L325.70,277.55 L326.20,277.95 L326.70,278.27 L327.20,278.60 L327.76,279.03 L328.31,279.49 L328.87,279.94 L329.43,280.37 L329.99,280.74 L330.54,281.02 L331.10,281.20 L331.62,281.30 L332.14,281.39 L332.66,281.48 L333.18,281.55 L333.70,281.62 L334.22,281.67 L334.74,281.72 L335.26,281.76 L335.78,281.78 L336.30,281.80 L336.81,281.81 L337.32,281.82 L337.84,281.83 L338.35,281.84 L338.86,281.85 L339.37,281.86 L339.88,281.86 L340.39,281.87 L340.91,281.88 L341.42,281.88 L341.93,281.89 L342.44,281.89 L342.95,281.89 L343.46,281.90 L343.98,281.90 L344.49,281.90 L345.00,281.90 L541.60,281.90" fill="none" stroke="#2a86c6" stroke-width="1.0" stroke-linejoin="round" stroke-linecap="butt"/>
<rect x="493.20" y="249.50" width="42.20" height="9.10" fill="#fff" stroke="#6c6c6c" stroke-width="1"/>
<line x1="495.40" y1="254.15" x2="516.00" y2="254.15" stroke="#86bde6" stroke-width="1.5"/>
<rect x="314.40" y="295.90" width="227.20" height="34.70" fill="none" stroke="#6c6c6c" stroke-width="1"/>
<line x1="342.80" y1="330.60" x2="342.80" y2="328.80" stroke="#6c6c6c" stroke-width="1.0"/>
<line x1="342.80" y1="295.90" x2="342.80" y2="297.70" stroke="#6c6c6c" stroke-width="1.0"/>
<line x1="371.20" y1="330.60" x2="371.20" y2="328.80" stroke="#6c6c6c" stroke-width="1.0"/>
<line x1="371.20" y1="295.90" x2="371.20" y2="297.70" stroke="#6c6c6c" stroke-width="1.0"/>
<line x1="399.60" y1="330.60" x2="399.60" y2="328.80" stroke="#6c6c6c" stroke-width="1.0"/>
<line x1="399.60" y1="295.90" x2="399.60" y2="297.70" stroke="#6c6c6c" stroke-width="1.0"/>
<line x1="428.00" y1="330.60" x2="428.00" y2="328.80" stroke="#6c6c6c" stroke-width="1.0"/>
<line x1="428.00" y1="295.90" x2="428.00" y2="297.70" stroke="#6c6c6c" stroke-width="1.0"/>
<line x1="456.40" y1="330.60" x2="456.40" y2="328.80" stroke="#6c6c6c" stroke-width="1.0"/>
<line x1="456.40" y1="295.90" x2="456.40" y2="297.70" stroke="#6c6c6c" stroke-width="1.0"/>
<line x1="484.80" y1="330.60" x2="484.80" y2="328.80" stroke="#6c6c6c" stroke-width="1.0"/>
<line x1="484.80" y1="295.90" x2="484.80" y2="297.70" stroke="#6c6c6c" stroke-width="1.0"/>
<line x1="513.20" y1="330.60" x2="513.20" y2="328.80" stroke="#6c6c6c" stroke-width="1.0"/>
<line x1="513.20" y1="295.90" x2="513.20" y2="297.70" stroke="#6c6c6c" stroke-width="1.0"/>
<line x1="314.40" y1="317.50" x2="316.20" y2="317.50" stroke="#6c6c6c" stroke-width="1.0"/>
<line x1="541.60" y1="317.50" x2="539.80" y2="317.50" stroke="#6c6c6c" stroke-width="1.0"/>
<path d="M320.00,295.40 L320.53,295.46 L321.05,295.51 L321.58,295.56 L322.11,295.61 L322.64,295.65 L323.16,295.70 L323.69,295.76 L324.22,295.83 L324.75,295.90 L325.27,295.99 L325.80,296.10 L326.31,296.27 L326.82,296.54 L327.33,296.90 L327.84,297.35 L328.35,297.87 L328.86,298.45 L329.37,299.08 L329.88,299.76 L330.39,300.47 L330.90,301.20 L331.41,302.08 L331.93,303.18 L332.44,304.45 L332.96,305.82 L333.47,307.23 L333.99,308.61 L334.50,309.90 L335.03,311.20 L335.56,312.54 L336.09,313.90 L336.61,315.22 L337.14,316.48 L337.67,317.61 L338.20,318.60 L338.71,319.45 L339.22,320.28 L339.73,321.08 L340.24,321.84 L340.75,322.55 L341.26,323.21 L341.77,323.81 L342.28,324.35 L342.79,324.81 L343.30,325.20 L343.80,325.53 L344.30,325.85 L344.80,326.15 L345.30,326.43 L345.80,326.70 L346.30,326.95 L346.80,327.17 L347.30,327.38 L347.80,327.57 L348.30,327.74 L348.80,327.88 L349.30,328.00 L349.80,328.10 L350.31,328.18 L350.82,328.26 L351.33,328.33 L351.84,328.39 L352.35,328.45 L352.86,328.51 L353.37,328.56 L353.88,328.60 L354.39,328.65 L354.90,328.69 L355.41,328.73 L355.92,328.77 L356.43,328.81 L356.94,328.85 L357.45,328.88 L357.96,328.92 L358.47,328.96 L358.98,329.01 L359.49,329.05 L360.00,329.10 L360.51,329.15 L361.02,329.20 L361.53,329.26 L362.04,329.32 L362.55,329.38 L363.06,329.43 L363.57,329.49 L364.08,329.55 L364.59,329.61 L365.10,329.67 L365.61,329.73 L366.12,329.78 L366.63,329.83 L367.14,329.88 L367.65,329.93 L368.16,329.97 L368.67,330.01 L369.18,330.04 L369.69,330.07 L370.20,330.10 L370.71,330.12 L371.22,330.14 L371.73,330.17 L372.24,330.19 L372.75,330.21 L373.26,330.23 L373.77,330.25 L374.28,330.27 L374.79,330.29 L375.30,330.30 L375.81,330.32 L376.32,330.34 L376.83,330.35 L377.34,330.37 L377.86,330.39 L378.37,330.40 L378.88,330.41 L379.39,330.43 L379.90,330.44 L380.41,330.45 L380.92,330.46 L381.43,330.47 L381.94,330.47 L382.45,330.48 L382.96,330.49 L383.47,330.49 L383.98,330.50 L384.49,330.50 L385.00,330.50 L385.50,330.50 L386.00,330.50 L386.50,330.50 L387.00,330.50 L387.50,330.50 L388.00,330.50 L388.50,330.51 L389.00,330.51 L389.50,330.51 L390.00,330.51 L390.50,330.51 L391.00,330.51 L391.50,330.51 L392.00,330.51 L392.50,330.51 L393.01,330.51 L393.51,330.51 L394.01,330.51 L394.51,330.51 L395.01,330.52 L395.51,330.52 L396.01,330.52 L396.51,330.52 L397.01,330.52 L397.51,330.52 L398.01,330.52 L398.51,330.52 L399.01,330.52 L399.51,330.52 L400.01,330.52 L400.51,330.52 L401.01,330.52 L401.51,330.52 L402.01,330.53 L402.51,330.53 L403.01,330.53 L403.51,330.53 L404.01,330.53 L404.51,330.53 L405.01,330.53 L405.51,330.53 L406.01,330.53 L406.51,330.53 L407.01,330.53 L407.51,330.53 L408.01,330.53 L408.52,330.53 L409.02,330.53 L409.52,330.53 L410.02,330.53 L410.52,330.54 L411.02,330.54 L411.52,330.54 L412.02,330.54 L412.52,330.54 L413.02,330.54 L413.52,330.54 L414.02,330.54 L414.52,330.54 L415.02,330.54 L415.52,330.54 L416.02,330.54 L416.52,330.54 L417.02,330.54 L417.52,330.54 L418.02,330.54 L418.52,330.54 L419.02,330.54 L419.52,330.54 L420.02,330.54 L420.52,330.55 L421.02,330.55 L421.52,330.55 L422.02,330.55 L422.52,330.55 L423.02,330.55 L423.52,330.55 L424.02,330.55 L424.53,330.55 L425.03,330.55 L425.53,330.55 L426.03,330.55 L426.53,330.55 L427.03,330.55 L427.53,330.55 L428.03,330.55 L428.53,330.55 L429.03,330.55 L429.53,330.55 L430.03,330.55 L430.53,330.55 L431.03,330.55 L431.53,330.55 L432.03,330.55 L432.53,330.55 L433.03,330.56 L433.53,330.56 L434.03,330.56 L434.53,330.56 L435.03,330.56 L435.53,330.56 L436.03,330.56 L436.53,330.56 L437.03,330.56 L437.53,330.56 L438.03,330.56 L438.53,330.56 L439.03,330.56 L439.53,330.56 L440.04,330.56 L440.54,330.56 L441.04,330.56 L441.54,330.56 L442.04,330.56 L442.54,330.56 L443.04,330.56 L443.54,330.56 L444.04,330.56 L444.54,330.56 L445.04,330.56 L445.54,330.56 L446.04,330.56 L446.54,330.56 L447.04,330.56 L447.54,330.56 L448.04,330.56 L448.54,330.56 L449.04,330.56 L449.54,330.56 L450.04,330.56 L450.54,330.57 L451.04,330.57 L451.54,330.57 L452.04,330.57 L452.54,330.57 L453.04,330.57 L453.54,330.57 L454.04,330.57 L454.54,330.57 L455.04,330.57 L455.55,330.57 L456.05,330.57 L456.55,330.57 L457.05,330.57 L457.55,330.57 L458.05,330.57 L458.55,330.57 L459.05,330.57 L459.55,330.57 L460.05,330.57 L460.55,330.57 L461.05,330.57 L461.55,330.57 L462.05,330.57 L462.55,330.57 L463.05,330.57 L463.55,330.57 L464.05,330.57 L464.55,330.57 L465.05,330.57 L465.55,330.57 L466.05,330.57 L466.55,330.57 L467.05,330.57 L467.55,330.57 L468.05,330.57 L468.55,330.57 L469.05,330.57 L469.55,330.57 L470.05,330.57 L470.55,330.57 L471.05,330.57 L471.56,330.57 L472.06,330.57 L472.56,330.57 L473.06,330.57 L473.56,330.57 L474.06,330.57 L474.56,330.57 L475.06,330.57 L475.56,330.57 L476.06,330.57 L476.56,330.58 L477.06,330.58 L477.56,330.58 L478.06,330.58 L478.56,330.58 L479.06,330.58 L479.56,330.58 L480.06,330.58 L480.56,330.58 L481.06,330.58 L481.56,330.58 L482.06,330.58 L482.56,330.58 L483.06,330.58 L483.56,330.58 L484.06,330.58 L484.56,330.58 L485.06,330.58 L485.56,330.58 L486.06,330.58 L486.56,330.58 L487.07,330.58 L487.57,330.58 L488.07,330.58 L488.57,330.58 L489.07,330.58 L489.57,330.58 L490.07,330.58 L490.57,330.58 L491.07,330.58 L491.57,330.58 L492.07,330.58 L492.57,330.58 L493.07,330.58 L493.57,330.58 L494.07,330.58 L494.57,330.58 L495.07,330.58 L495.57,330.58 L496.07,330.58 L496.57,330.58 L497.07,330.58 L497.57,330.58 L498.07,330.58 L498.57,330.58 L499.07,330.58 L499.57,330.58 L500.07,330.58 L500.57,330.58 L501.07,330.58 L501.57,330.58 L502.07,330.58 L502.58,330.58 L503.08,330.58 L503.58,330.58 L504.08,330.58 L504.58,330.58 L505.08,330.58 L505.58,330.58 L506.08,330.58 L506.58,330.58 L507.08,330.58 L507.58,330.58 L508.08,330.58 L508.58,330.58 L509.08,330.58 L509.58,330.59 L510.08,330.59 L510.58,330.59 L511.08,330.59 L511.58,330.59 L512.08,330.59 L512.58,330.59 L513.08,330.59 L513.58,330.59 L514.08,330.59 L514.58,330.59 L515.08,330.59 L515.58,330.59 L516.08,330.59 L516.58,330.59 L517.08,330.59 L517.58,330.59 L518.08,330.59 L518.59,330.59 L519.09,330.59 L519.59,330.59 L520.09,330.59 L520.59,330.59 L521.09,330.59 L521.59,330.59 L522.09,330.59 L522.59,330.59 L523.09,330.59 L523.59,330.59 L524.09,330.59 L524.59,330.59 L525.09,330.59 L525.59,330.59 L526.09,330.59 L526.59,330.59 L527.09,330.59 L527.59,330.59 L528.09,330.59 L528.59,330.59 L529.09,330.59 L529.59,330.59 L530.09,330.59 L530.59,330.59 L531.09,330.59 L531.59,330.59 L532.09,330.59 L532.59,330.59 L533.09,330.60 L533.59,330.60 L534.10,330.60 L534.60,330.60 L535.10,330.60 L535.60,330.60 L536.10,330.60 L536.60,330.60 L537.10,330.60 L537.60,330.60 L538.10,330.60 L538.60,330.60 L539.10,330.60 L539.60,330.60 L540.10,330.60 L540.60,330.60 L541.10,330.60 L541.60,330.60" fill="none" stroke="#2a86c6" stroke-width="1.0" stroke-linejoin="round" stroke-linecap="butt"/>
<rect x="496.80" y="298.50" width="38.90" height="8.80" fill="#fff" stroke="#6c6c6c" stroke-width="1"/>
<line x1="499.00" y1="303.00" x2="519.60" y2="303.00" stroke="#86bde6" stroke-width="1.5"/>
<rect x="314.40" y="344.50" width="227.20" height="34.40" fill="none" stroke="#6c6c6c" stroke-width="1"/>
<line x1="342.80" y1="378.90" x2="342.80" y2="377.10" stroke="#6c6c6c" stroke-width="1.0"/>
<line x1="342.80" y1="344.50" x2="342.80" y2="346.30" stroke="#6c6c6c" stroke-width="1.0"/>
<line x1="371.20" y1="378.90" x2="371.20" y2="377.10" stroke="#6c6c6c" stroke-width="1.0"/>
<line x1="371.20" y1="344.50" x2="371.20" y2="346.30" stroke="#6c6c6c" stroke-width="1.0"/>
<line x1="399.60" y1="378.90" x2="399.60" y2="377.10" stroke="#6c6c6c" stroke-width="1.0"/>
<line x1="399.60" y1="344.50" x2="399.60" y2="346.30" stroke="#6c6c6c" stroke-width="1.0"/>
<line x1="428.00" y1="378.90" x2="428.00" y2="377.10" stroke="#6c6c6c" stroke-width="1.0"/>
<line x1="428.00" y1="344.50" x2="428.00" y2="346.30" stroke="#6c6c6c" stroke-width="1.0"/>
<line x1="456.40" y1="378.90" x2="456.40" y2="377.10" stroke="#6c6c6c" stroke-width="1.0"/>
<line x1="456.40" y1="344.50" x2="456.40" y2="346.30" stroke="#6c6c6c" stroke-width="1.0"/>
<line x1="484.80" y1="378.90" x2="484.80" y2="377.10" stroke="#6c6c6c" stroke-width="1.0"/>
<line x1="484.80" y1="344.50" x2="484.80" y2="346.30" stroke="#6c6c6c" stroke-width="1.0"/>
<line x1="513.20" y1="378.90" x2="513.20" y2="377.10" stroke="#6c6c6c" stroke-width="1.0"/>
<line x1="513.20" y1="344.50" x2="513.20" y2="346.30" stroke="#6c6c6c" stroke-width="1.0"/>
<line x1="314.40" y1="366.50" x2="316.20" y2="366.50" stroke="#6c6c6c" stroke-width="1.0"/>
<line x1="541.60" y1="366.50" x2="539.80" y2="366.50" stroke="#6c6c6c" stroke-width="1.0"/>
<path d="M320.00,344.10 L325.80,344.40 L330.90,347.30 L336.70,360.40 L342.50,373.30 L348.40,375.20 L358.50,377.40 L367.30,378.60 L375.00,378.90 L541.60,378.90" fill="none" stroke="#2a86c6" stroke-width="1.0" stroke-linejoin="round" stroke-linecap="butt"/>
<rect x="493.20" y="347.10" width="42.50" height="9.00" fill="#fff" stroke="#6c6c6c" stroke-width="1"/>
<line x1="495.40" y1="351.70" x2="516.00" y2="351.70" stroke="#86bde6" stroke-width="1.5"/>
<rect x="314.40" y="392.80" width="227.20" height="34.70" fill="none" stroke="#6c6c6c" stroke-width="1"/>
<line x1="342.80" y1="427.50" x2="342.80" y2="425.70" stroke="#6c6c6c" stroke-width="1.0"/>
<line x1="342.80" y1="392.80" x2="342.80" y2="394.60" stroke="#6c6c6c" stroke-width="1.0"/>
<line x1="371.20" y1="427.50" x2="371.20" y2="425.70" stroke="#6c6c6c" stroke-width="1.0"/>
<line x1="371.20" y1="392.80" x2="371.20" y2="394.60" stroke="#6c6c6c" stroke-width="1.0"/>
<line x1="399.60" y1="427.50" x2="399.60" y2="425.70" stroke="#6c6c6c" stroke-width="1.0"/>
<line x1="399.60" y1="392.80" x2="399.60" y2="394.60" stroke="#6c6c6c" stroke-width="1.0"/>
<line x1="428.00" y1="427.50" x2="428.00" y2="425.70" stroke="#6c6c6c" stroke-width="1.0"/>
<line x1="428.00" y1="392.80" x2="428.00" y2="394.60" stroke="#6c6c6c" stroke-width="1.0"/>
<line x1="456.40" y1="427.50" x2="456.40" y2="425.70" stroke="#6c6c6c" stroke-width="1.0"/>
<line x1="456.40" y1="392.80" x2="456.40" y2="394.60" stroke="#6c6c6c" stroke-width="1.0"/>
<line x1="484.80" y1="427.50" x2="484.80" y2="425.70" stroke="#6c6c6c" stroke-width="1.0"/>
<line x1="484.80" y1="392.80" x2="484.80" y2="394.60" stroke="#6c6c6c" stroke-width="1.0"/>
<line x1="513.20" y1="427.50" x2="513.20" y2="425.70" stroke="#6c6c6c" stroke-width="1.0"/>
<line x1="513.20" y1="392.80" x2="513.20" y2="394.60" stroke="#6c6c6c" stroke-width="1.0"/>
<line x1="314.40" y1="419.00" x2="316.20" y2="419.00" stroke="#6c6c6c" stroke-width="1.0"/>
<line x1="541.60" y1="419.00" x2="539.80" y2="419.00" stroke="#6c6c6c" stroke-width="1.0"/>
<path d="M319.60,393.00 L320.11,394.36 L320.62,395.77 L321.13,397.22 L321.64,398.66 L322.15,400.10 L322.66,401.50 L323.17,402.84 L323.68,404.10 L324.19,405.26 L324.70,406.30 L325.20,407.24 L325.70,408.14 L326.20,409.01 L326.70,409.84 L327.20,410.64 L327.70,411.39 L328.20,412.10 L328.70,412.77 L329.20,413.40 L329.70,413.97 L330.20,414.50 L330.72,415.01 L331.24,415.51 L331.76,415.98 L332.29,416.44 L332.81,416.88 L333.33,417.29 L333.85,417.69 L334.37,418.07 L334.89,418.42 L335.41,418.76 L335.94,419.07 L336.46,419.37 L336.98,419.65 L337.50,419.90 L338.02,420.14 L338.54,420.37 L339.06,420.60 L339.58,420.81 L340.10,421.02 L340.61,421.23 L341.13,421.42 L341.65,421.61 L342.17,421.79 L342.69,421.97 L343.21,422.14 L343.73,422.30 L344.25,422.46 L344.77,422.61 L345.29,422.75 L345.80,422.89 L346.32,423.03 L346.84,423.15 L347.36,423.27 L347.88,423.39 L348.40,423.50 L348.91,423.60 L349.42,423.70 L349.92,423.80 L350.43,423.90 L350.94,423.99 L351.45,424.08 L351.96,424.16 L352.46,424.24 L352.97,424.32 L353.48,424.40 L353.99,424.48 L354.50,424.55 L355.00,424.63 L355.51,424.70 L356.02,424.77 L356.53,424.83 L357.04,424.90 L357.54,424.96 L358.05,425.03 L358.56,425.09 L359.07,425.15 L359.58,425.22 L360.08,425.28 L360.59,425.34 L361.10,425.40 L361.62,425.46 L362.14,425.52 L362.66,425.59 L363.18,425.65 L363.70,425.71 L364.21,425.77 L364.73,425.83 L365.25,425.88 L365.77,425.94 L366.29,426.00 L366.81,426.05 L367.33,426.11 L367.85,426.16 L368.37,426.21 L368.89,426.25 L369.40,426.30 L369.92,426.35 L370.44,426.39 L370.96,426.43 L371.48,426.46 L372.00,426.50 L372.51,426.53 L373.02,426.56 L373.52,426.60 L374.03,426.63 L374.54,426.66 L375.05,426.69 L375.56,426.71 L376.06,426.74 L376.57,426.77 L377.08,426.80 L377.59,426.82 L378.10,426.85 L378.60,426.87 L379.11,426.89 L379.62,426.92 L380.13,426.94 L380.64,426.96 L381.14,426.98 L381.65,427.00 L382.16,427.02 L382.67,427.04 L383.18,427.05 L383.68,427.07 L384.19,427.09 L384.70,427.10 L385.21,427.11 L385.72,427.13 L386.23,427.14 L386.74,427.16 L387.25,427.17 L387.76,427.19 L388.27,427.20 L388.78,427.21 L389.29,427.23 L389.80,427.24 L390.31,427.25 L390.82,427.26 L391.33,427.28 L391.84,427.29 L392.35,427.30 L392.86,427.31 L393.37,427.32 L393.88,427.33 L394.39,427.34 L394.90,427.35 L395.41,427.36 L395.92,427.37 L396.43,427.37 L396.94,427.38 L397.45,427.38 L397.96,427.39 L398.47,427.39 L398.98,427.40 L399.49,427.40 L400.00,427.40 L400.50,427.40 L401.00,427.40 L401.50,427.40 L402.00,427.40 L402.50,427.40 L403.00,427.41 L403.50,427.41 L404.00,427.41 L404.50,427.41 L405.00,427.41 L405.50,427.41 L406.00,427.41 L406.50,427.41 L407.00,427.41 L407.51,427.41 L408.01,427.41 L408.51,427.41 L409.01,427.42 L409.51,427.42 L410.01,427.42 L410.51,427.42 L411.01,427.42 L411.51,427.42 L412.01,427.42 L412.51,427.42 L413.01,427.42 L413.51,427.42 L414.01,427.42 L414.51,427.42 L415.01,427.42 L415.51,427.42 L416.01,427.43 L416.51,427.43 L417.01,427.43 L417.51,427.43 L418.01,427.43 L418.51,427.43 L419.01,427.43 L419.51,427.43 L420.01,427.43 L420.51,427.43 L421.01,427.43 L421.52,427.43 L422.02,427.43 L422.52,427.43 L423.02,427.43 L423.52,427.43 L424.02,427.44 L424.52,427.44 L425.02,427.44 L425.52,427.44 L426.02,427.44 L426.52,427.44 L427.02,427.44 L427.52,427.44 L428.02,427.44 L428.52,427.44 L429.02,427.44 L429.52,427.44 L430.02,427.44 L430.52,427.44 L431.02,427.44 L431.52,427.44 L432.02,427.44 L432.52,427.44 L433.02,427.44 L433.52,427.45 L434.02,427.45 L434.52,427.45 L435.02,427.45 L435.53,427.45 L436.03,427.45 L436.53,427.45 L437.03,427.45 L437.53,427.45 L438.03,427.45 L438.53,427.45 L439.03,427.45 L439.53,427.45 L440.03,427.45 L440.53,427.45 L441.03,427.45 L441.53,427.45 L442.03,427.45 L442.53,427.45 L443.03,427.45 L443.53,427.45 L444.03,427.45 L444.53,427.45 L445.03,427.46 L445.53,427.46 L446.03,427.46 L446.53,427.46 L447.03,427.46 L447.53,427.46 L448.03,427.46 L448.53,427.46 L449.03,427.46 L449.53,427.46 L450.04,427.46 L450.54,427.46 L451.04,427.46 L451.54,427.46 L452.04,427.46 L452.54,427.46 L453.04,427.46 L453.54,427.46 L454.04,427.46 L454.54,427.46 L455.04,427.46 L455.54,427.46 L456.04,427.46 L456.54,427.46 L457.04,427.46 L457.54,427.46 L458.04,427.46 L458.54,427.46 L459.04,427.46 L459.54,427.46 L460.04,427.46 L460.54,427.46 L461.04,427.47 L461.54,427.47 L462.04,427.47 L462.54,427.47 L463.04,427.47 L463.54,427.47 L464.05,427.47 L464.55,427.47 L465.05,427.47 L465.55,427.47 L466.05,427.47 L466.55,427.47 L467.05,427.47 L467.55,427.47 L468.05,427.47 L468.55,427.47 L469.05,427.47 L469.55,427.47 L470.05,427.47 L470.55,427.47 L471.05,427.47 L471.55,427.47 L472.05,427.47 L472.55,427.47 L473.05,427.47 L473.55,427.47 L474.05,427.47 L474.55,427.47 L475.05,427.47 L475.55,427.47 L476.05,427.47 L476.55,427.47 L477.05,427.47 L477.55,427.47 L478.06,427.47 L478.56,427.47 L479.06,427.47 L479.56,427.47 L480.06,427.47 L480.56,427.47 L481.06,427.47 L481.56,427.47 L482.06,427.47 L482.56,427.47 L483.06,427.47 L483.56,427.47 L484.06,427.47 L484.56,427.47 L485.06,427.48 L485.56,427.48 L486.06,427.48 L486.56,427.48 L487.06,427.48 L487.56,427.48 L488.06,427.48 L488.56,427.48 L489.06,427.48 L489.56,427.48 L490.06,427.48 L490.56,427.48 L491.06,427.48 L491.56,427.48 L492.07,427.48 L492.57,427.48 L493.07,427.48 L493.57,427.48 L494.07,427.48 L494.57,427.48 L495.07,427.48 L495.57,427.48 L496.07,427.48 L496.57,427.48 L497.07,427.48 L497.57,427.48 L498.07,427.48 L498.57,427.48 L499.07,427.48 L499.57,427.48 L500.07,427.48 L500.57,427.48 L501.07,427.48 L501.57,427.48 L502.07,427.48 L502.57,427.48 L503.07,427.48 L503.57,427.48 L504.07,427.48 L504.57,427.48 L505.07,427.48 L505.57,427.48 L506.07,427.48 L506.58,427.48 L507.08,427.48 L507.58,427.48 L508.08,427.48 L508.58,427.48 L509.08,427.48 L509.58,427.48 L510.08,427.48 L510.58,427.48 L511.08,427.48 L511.58,427.48 L512.08,427.48 L512.58,427.48 L513.08,427.48 L513.58,427.49 L514.08,427.49 L514.58,427.49 L515.08,427.49 L515.58,427.49 L516.08,427.49 L516.58,427.49 L517.08,427.49 L517.58,427.49 L518.08,427.49 L518.58,427.49 L519.08,427.49 L519.58,427.49 L520.08,427.49 L520.59,427.49 L521.09,427.49 L521.59,427.49 L522.09,427.49 L522.59,427.49 L523.09,427.49 L523.59,427.49 L524.09,427.49 L524.59,427.49 L525.09,427.49 L525.59,427.49 L526.09,427.49 L526.59,427.49 L527.09,427.49 L527.59,427.49 L528.09,427.49 L528.59,427.49 L529.09,427.49 L529.59,427.49 L530.09,427.49 L530.59,427.49 L531.09,427.49 L531.59,427.49 L532.09,427.49 L532.59,427.49 L533.09,427.49 L533.59,427.49 L534.09,427.50 L534.60,427.50 L535.10,427.50 L535.60,427.50 L536.10,427.50 L536.60,427.50 L537.10,427.50 L537.60,427.50 L538.10,427.50 L538.60,427.50 L539.10,427.50 L539.60,427.50 L540.10,427.50 L540.60,427.50 L541.10,427.50 L541.60,427.50" fill="none" stroke="#2a86c6" stroke-width="1.0" stroke-linejoin="round" stroke-linecap="butt"/>
<rect x="496.80" y="395.30" width="38.90" height="9.00" fill="#fff" stroke="#6c6c6c" stroke-width="1"/>
<line x1="499.00" y1="399.90" x2="519.60" y2="399.90" stroke="#86bde6" stroke-width="1.5"/>
</g>
<g>
<text x="27.40" y="50.50" font-family="Liberation Sans, sans-serif" font-size="5.7" font-weight="bold" fill="#2e2e2e" text-anchor="middle">0</text>
<text x="55.66" y="50.50" font-family="Liberation Sans, sans-serif" font-size="5.7" font-weight="bold" fill="#2e2e2e" text-anchor="middle">5</text>
<text x="83.92" y="50.50" font-family="Liberation Sans, sans-serif" font-size="5.7" font-weight="bold" fill="#2e2e2e" text-anchor="middle">10</text>
<text x="112.19" y="50.50" font-family="Liberation Sans, sans-serif" font-size="5.7" font-weight="bold" fill="#2e2e2e" text-anchor="middle">15</text>
<text x="140.45" y="50.50" font-family="Liberation Sans, sans-serif" font-size="5.7" font-weight="bold" fill="#2e2e2e" text-anchor="middle">20</text>
<text x="168.71" y="50.50" font-family="Liberation Sans, sans-serif" font-size="5.7" font-weight="bold" fill="#2e2e2e" text-anchor="middle">25</text>
<text x="196.97" y="50.50" font-family="Liberation Sans, sans-serif" font-size="5.7" font-weight="bold" fill="#2e2e2e" text-anchor="middle">30</text>
<text x="225.24" y="50.50" font-family="Liberation Sans, sans-serif" font-size="5.7" font-weight="bold" fill="#2e2e2e" text-anchor="middle">35</text>
<text x="253.50" y="50.50" font-family="Liberation Sans, sans-serif" font-size="5.7" font-weight="bold" fill="#2e2e2e" text-anchor="middle">40</text>
<text x="25.80" y="10.30" font-family="Liberation Sans, sans-serif" font-size="5.7" font-weight="bold" fill="#2e2e2e" text-anchor="end">1</text>
<text x="25.80" y="24.30" font-family="Liberation Sans, sans-serif" font-size="5.7" font-weight="bold" fill="#2e2e2e" text-anchor="end">0.99</text>
<text x="25.80" y="38.10" font-family="Liberation Sans, sans-serif" font-size="5.7" font-weight="bold" fill="#2e2e2e" text-anchor="end">0.98</text>
<text x="229.70" y="17.70" font-family="Liberation Sans, sans-serif" font-size="5.9" font-weight="bold" fill="#111111" text-anchor="start" stroke="#111" stroke-width="0.25">DFCM</text>
<text x="27.40" y="98.70" font-family="Liberation Sans, sans-serif" font-size="5.7" font-weight="bold" fill="#2e2e2e" text-anchor="middle">0</text>
<text x="55.66" y="98.70" font-family="Liberation Sans, sans-serif" font-size="5.7" font-weight="bold" fill="#2e2e2e" text-anchor="middle">5</text>
<text x="83.92" y="98.70" font-family="Liberation Sans, sans-serif" font-size="5.7" font-weight="bold" fill="#2e2e2e" text-anchor="middle">10</text>
<text x="112.19" y="98.70" font-family="Liberation Sans, sans-serif" font-size="5.7" font-weight="bold" fill="#2e2e2e" text-anchor="middle">15</text>
<text x="140.45" y="98.70" font-family="Liberation Sans, sans-serif" font-size="5.7" font-weight="bold" fill="#2e2e2e" text-anchor="middle">20</text>
<text x="168.71" y="98.70" font-family="Liberation Sans, sans-serif" font-size="5.7" font-weight="bold" fill="#2e2e2e" text-anchor="middle">25</text>
<text x="196.97" y="98.70" font-family="Liberation Sans, sans-serif" font-size="5.7" font-weight="bold" fill="#2e2e2e" text-anchor="middle">30</text>
<text x="225.24" y="98.70" font-family="Liberation Sans, sans-serif" font-size="5.7" font-weight="bold" fill="#2e2e2e" text-anchor="middle">35</text>
<text x="253.50" y="98.70" font-family="Liberation Sans, sans-serif" font-size="5.7" font-weight="bold" fill="#2e2e2e" text-anchor="middle">40</text>
<text x="25.80" y="59.10" font-family="Liberation Sans, sans-serif" font-size="5.7" font-weight="bold" fill="#2e2e2e" text-anchor="end">1</text>
<text x="25.80" y="72.80" font-family="Liberation Sans, sans-serif" font-size="5.7" font-weight="bold" fill="#2e2e2e" text-anchor="end">0.8</text>
<text x="25.80" y="86.60" font-family="Liberation Sans, sans-serif" font-size="5.7" font-weight="bold" fill="#2e2e2e" text-anchor="end">0.6</text>
<text x="233.40" y="66.35" font-family="Liberation Sans, sans-serif" font-size="5.9" font-weight="bold" fill="#111111" text-anchor="start" stroke="#111" stroke-width="0.25">FCM</text>
<text x="27.40" y="146.90" font-family="Liberation Sans, sans-serif" font-size="5.7" font-weight="bold" fill="#2e2e2e" text-anchor="middle">0</text>
<text x="55.66" y="146.90" font-family="Liberation Sans, sans-serif" font-size="5.7" font-weight="bold" fill="#2e2e2e" text-anchor="middle">5</text>
<text x="83.92" y="146.90" font-family="Liberation Sans, sans-serif" font-size="5.7" font-weight="bold" fill="#2e2e2e" text-anchor="middle">10</text>
<text x="112.19" y="146.90" font-family="Liberation Sans, sans-serif" font-size="5.7" font-weight="bold" fill="#2e2e2e" text-anchor="middle">15</text>
<text x="140.45" y="146.90" font-family="Liberation Sans, sans-serif" font-size="5.7" font-weight="bold" fill="#2e2e2e" text-anchor="middle">20</text>
<text x="168.71" y="146.90" font-family="Liberation Sans, sans-serif" font-size="5.7" font-weight="bold" fill="#2e2e2e" text-anchor="middle">25</text>
<text x="196.97" y="146.90" font-family="Liberation Sans, sans-serif" font-size="5.7" font-weight="bold" fill="#2e2e2e" text-anchor="middle">30</text>
<text x="225.24" y="146.90" font-family="Liberation Sans, sans-serif" font-size="5.7" font-weight="bold" fill="#2e2e2e" text-anchor="middle">35</text>
<text x="253.50" y="146.90" font-family="Liberation Sans, sans-serif" font-size="5.7" font-weight="bold" fill="#2e2e2e" text-anchor="middle">40</text>
<text x="25.80" y="107.10" font-family="Liberation Sans, sans-serif" font-size="5.7" font-weight="bold" fill="#2e2e2e" text-anchor="end">1</text>
<text x="25.80" y="135.90" font-family="Liberation Sans, sans-serif" font-size="5.7" font-weight="bold" fill="#2e2e2e" text-anchor="end">0.5</text>
<text x="229.70" y="114.65" font-family="Liberation Sans, sans-serif" font-size="5.9" font-weight="bold" fill="#111111" text-anchor="start" stroke="#111" stroke-width="0.25">CFCM</text>
<text x="27.40" y="195.00" font-family="Liberation Sans, sans-serif" font-size="5.7" font-weight="bold" fill="#2e2e2e" text-anchor="middle">0</text>
<text x="55.66" y="195.00" font-family="Liberation Sans, sans-serif" font-size="5.7" font-weight="bold" fill="#2e2e2e" text-anchor="middle">5</text>
<text x="83.92" y="195.00" font-family="Liberation Sans, sans-serif" font-size="5.7" font-weight="bold" fill="#2e2e2e" text-anchor="middle">10</text>
<text x="112.19" y="195.00" font-family="Liberation Sans, sans-serif" font-size="5.7" font-weight="bold" fill="#2e2e2e" text-anchor="middle">15</text>
<text x="140.45" y="195.00" font-family="Liberation Sans, sans-serif" font-size="5.7" font-weight="bold" fill="#2e2e2e" text-anchor="middle">20</text>
<text x="168.71" y="195.00" font-family="Liberation Sans, sans-serif" font-size="5.7" font-weight="bold" fill="#2e2e2e" text-anchor="middle">25</text>
<text x="196.97" y="195.00" font-family="Liberation Sans, sans-serif" font-size="5.7" font-weight="bold" fill="#2e2e2e" text-anchor="middle">30</text>
<text x="225.24" y="195.00" font-family="Liberation Sans, sans-serif" font-size="5.7" font-weight="bold" fill="#2e2e2e" text-anchor="middle">35</text>
<text x="253.50" y="195.00" font-family="Liberation Sans, sans-serif" font-size="5.7" font-weight="bold" fill="#2e2e2e" text-anchor="middle">40</text>
<text x="25.80" y="155.40" font-family="Liberation Sans, sans-serif" font-size="5.7" font-weight="bold" fill="#2e2e2e" text-anchor="end">1</text>
<text x="25.80" y="166.70" font-family="Liberation Sans, sans-serif" font-size="5.7" font-weight="bold" fill="#2e2e2e" text-anchor="end">0.999</text>
<text x="25.80" y="178.10" font-family="Liberation Sans, sans-serif" font-size="5.7" font-weight="bold" fill="#2e2e2e" text-anchor="end">0.998</text>
<text x="233.20" y="162.75" font-family="Liberation Sans, sans-serif" font-size="5.9" font-weight="bold" fill="#111111" text-anchor="start" stroke="#111" stroke-width="0.25">PCM</text>
<text x="140.20" y="203.20" font-family="Liberation Sans, sans-serif" font-size="6.6" font-weight="normal" fill="#111111" text-anchor="middle" stroke="#111111" stroke-width="0.2">iteration times</text>
<text x="315.50" y="49.80" font-family="Liberation Sans, sans-serif" font-size="5.7" font-weight="bold" fill="#2e2e2e" text-anchor="middle">0</text>
<text x="343.94" y="49.80" font-family="Liberation Sans, sans-serif" font-size="5.7" font-weight="bold" fill="#2e2e2e" text-anchor="middle">5</text>
<text x="372.38" y="49.80" font-family="Liberation Sans, sans-serif" font-size="5.7" font-weight="bold" fill="#2e2e2e" text-anchor="middle">10</text>
<text x="400.81" y="49.80" font-family="Liberation Sans, sans-serif" font-size="5.7" font-weight="bold" fill="#2e2e2e" text-anchor="middle">15</text>
<text x="429.25" y="49.80" font-family="Liberation Sans, sans-serif" font-size="5.7" font-weight="bold" fill="#2e2e2e" text-anchor="middle">20</text>
<text x="457.69" y="49.80" font-family="Liberation Sans, sans-serif" font-size="5.7" font-weight="bold" fill="#2e2e2e" text-anchor="middle">25</text>
<text x="486.12" y="49.80" font-family="Liberation Sans, sans-serif" font-size="5.7" font-weight="bold" fill="#2e2e2e" text-anchor="middle">30</text>
<text x="514.56" y="49.80" font-family="Liberation Sans, sans-serif" font-size="5.7" font-weight="bold" fill="#2e2e2e" text-anchor="middle">35</text>
<text x="543.00" y="49.80" font-family="Liberation Sans, sans-serif" font-size="5.7" font-weight="bold" fill="#2e2e2e" text-anchor="middle">40</text>
<text x="313.90" y="9.30" font-family="Liberation Sans, sans-serif" font-size="5.7" font-weight="bold" fill="#2e2e2e" text-anchor="end">1</text>
<text x="313.90" y="38.20" font-family="Liberation Sans, sans-serif" font-size="5.7" font-weight="bold" fill="#2e2e2e" text-anchor="end">0.95</text>
<text x="520.30" y="17.05" font-family="Liberation Sans, sans-serif" font-size="5.9" font-weight="bold" fill="#111111" text-anchor="start" stroke="#111" stroke-width="0.25">DFCM</text>
<text x="315.50" y="97.70" font-family="Liberation Sans, sans-serif" font-size="5.7" font-weight="bold" fill="#2e2e2e" text-anchor="middle">0</text>
<text x="343.94" y="97.70" font-family="Liberation Sans, sans-serif" font-size="5.7" font-weight="bold" fill="#2e2e2e" text-anchor="middle">5</text>
<text x="372.38" y="97.70" font-family="Liberation Sans, sans-serif" font-size="5.7" font-weight="bold" fill="#2e2e2e" text-anchor="middle">10</text>
<text x="400.81" y="97.70" font-family="Liberation Sans, sans-serif" font-size="5.7" font-weight="bold" fill="#2e2e2e" text-anchor="middle">15</text>
<text x="429.25" y="97.70" font-family="Liberation Sans, sans-serif" font-size="5.7" font-weight="bold" fill="#2e2e2e" text-anchor="middle">20</text>
<text x="457.69" y="97.70" font-family="Liberation Sans, sans-serif" font-size="5.7" font-weight="bold" fill="#2e2e2e" text-anchor="middle">25</text>
<text x="486.12" y="97.70" font-family="Liberation Sans, sans-serif" font-size="5.7" font-weight="bold" fill="#2e2e2e" text-anchor="middle">30</text>
<text x="514.56" y="97.70" font-family="Liberation Sans, sans-serif" font-size="5.7" font-weight="bold" fill="#2e2e2e" text-anchor="middle">35</text>
<text x="543.00" y="97.70" font-family="Liberation Sans, sans-serif" font-size="5.7" font-weight="bold" fill="#2e2e2e" text-anchor="middle">40</text>
<text x="313.90" y="58.20" font-family="Liberation Sans, sans-serif" font-size="5.7" font-weight="bold" fill="#2e2e2e" text-anchor="end">1</text>
<text x="313.90" y="71.60" font-family="Liberation Sans, sans-serif" font-size="5.7" font-weight="bold" fill="#2e2e2e" text-anchor="end">0.8</text>
<text x="313.90" y="85.30" font-family="Liberation Sans, sans-serif" font-size="5.7" font-weight="bold" fill="#2e2e2e" text-anchor="end">0.6</text>
<text x="522.50" y="65.50" font-family="Liberation Sans, sans-serif" font-size="5.9" font-weight="bold" fill="#111111" text-anchor="start" stroke="#111" stroke-width="0.25">FCM</text>
<text x="315.50" y="146.00" font-family="Liberation Sans, sans-serif" font-size="5.7" font-weight="bold" fill="#2e2e2e" text-anchor="middle">0</text>
<text x="343.94" y="146.00" font-family="Liberation Sans, sans-serif" font-size="5.7" font-weight="bold" fill="#2e2e2e" text-anchor="middle">5</text>
<text x="372.38" y="146.00" font-family="Liberation Sans, sans-serif" font-size="5.7" font-weight="bold" fill="#2e2e2e" text-anchor="middle">10</text>
<text x="400.81" y="146.00" font-family="Liberation Sans, sans-serif" font-size="5.7" font-weight="bold" fill="#2e2e2e" text-anchor="middle">15</text>
<text x="429.25" y="146.00" font-family="Liberation Sans, sans-serif" font-size="5.7" font-weight="bold" fill="#2e2e2e" text-anchor="middle">20</text>
<text x="457.69" y="146.00" font-family="Liberation Sans, sans-serif" font-size="5.7" font-weight="bold" fill="#2e2e2e" text-anchor="middle">25</text>
<text x="486.12" y="146.00" font-family="Liberation Sans, sans-serif" font-size="5.7" font-weight="bold" fill="#2e2e2e" text-anchor="middle">30</text>
<text x="514.56" y="146.00" font-family="Liberation Sans, sans-serif" font-size="5.7" font-weight="bold" fill="#2e2e2e" text-anchor="middle">35</text>
<text x="543.00" y="146.00" font-family="Liberation Sans, sans-serif" font-size="5.7" font-weight="bold" fill="#2e2e2e" text-anchor="middle">40</text>
<text x="313.90" y="106.40" font-family="Liberation Sans, sans-serif" font-size="5.7" font-weight="bold" fill="#2e2e2e" text-anchor="end">1</text>
<text x="313.90" y="120.00" font-family="Liberation Sans, sans-serif" font-size="5.7" font-weight="bold" fill="#2e2e2e" text-anchor="end">0.8</text>
<text x="313.90" y="134.20" font-family="Liberation Sans, sans-serif" font-size="5.7" font-weight="bold" fill="#2e2e2e" text-anchor="end">0.6</text>
<text x="519.00" y="113.85" font-family="Liberation Sans, sans-serif" font-size="5.9" font-weight="bold" fill="#111111" text-anchor="start" stroke="#111" stroke-width="0.25">CFCM</text>
<text x="316.00" y="194.10" font-family="Liberation Sans, sans-serif" font-size="5.7" font-weight="bold" fill="#2e2e2e" text-anchor="middle">0</text>
<text x="344.38" y="194.10" font-family="Liberation Sans, sans-serif" font-size="5.7" font-weight="bold" fill="#2e2e2e" text-anchor="middle">5</text>
<text x="372.75" y="194.10" font-family="Liberation Sans, sans-serif" font-size="5.7" font-weight="bold" fill="#2e2e2e" text-anchor="middle">10</text>
<text x="401.12" y="194.10" font-family="Liberation Sans, sans-serif" font-size="5.7" font-weight="bold" fill="#2e2e2e" text-anchor="middle">15</text>
<text x="429.50" y="194.10" font-family="Liberation Sans, sans-serif" font-size="5.7" font-weight="bold" fill="#2e2e2e" text-anchor="middle">20</text>
<text x="457.88" y="194.10" font-family="Liberation Sans, sans-serif" font-size="5.7" font-weight="bold" fill="#2e2e2e" text-anchor="middle">25</text>
<text x="486.25" y="194.10" font-family="Liberation Sans, sans-serif" font-size="5.7" font-weight="bold" fill="#2e2e2e" text-anchor="middle">30</text>
<text x="514.62" y="194.10" font-family="Liberation Sans, sans-serif" font-size="5.7" font-weight="bold" fill="#2e2e2e" text-anchor="middle">35</text>
<text x="543.00" y="194.10" font-family="Liberation Sans, sans-serif" font-size="5.7" font-weight="bold" fill="#2e2e2e" text-anchor="middle">40</text>
<text x="314.40" y="154.40" font-family="Liberation Sans, sans-serif" font-size="5.7" font-weight="normal" fill="#333" text-anchor="end">1</text>
<text x="314.40" y="171.30" font-family="Liberation Sans, sans-serif" font-size="5.7" font-weight="normal" fill="#333" text-anchor="end">0.999</text>
<text x="314.40" y="188.50" font-family="Liberation Sans, sans-serif" font-size="5.7" font-weight="normal" fill="#333" text-anchor="end">0.998</text>
<text x="522.60" y="161.95" font-family="Liberation Sans, sans-serif" font-size="5.9" font-weight="bold" fill="#111111" text-anchor="start" stroke="#111" stroke-width="0.25">PCM</text>
<text x="429.30" y="202.20" font-family="Liberation Sans, sans-serif" font-size="6.6" font-weight="normal" fill="#111111" text-anchor="middle" stroke="#111111" stroke-width="0.2">iteration times</text>
<text x="26.30" y="288.60" font-family="Liberation Sans, sans-serif" font-size="5.7" font-weight="bold" fill="#2e2e2e" text-anchor="middle">0</text>
<text x="54.69" y="288.60" font-family="Liberation Sans, sans-serif" font-size="5.7" font-weight="bold" fill="#2e2e2e" text-anchor="middle">5</text>
<text x="83.08" y="288.60" font-family="Liberation Sans, sans-serif" font-size="5.7" font-weight="bold" fill="#2e2e2e" text-anchor="middle">10</text>
<text x="111.46" y="288.60" font-family="Liberation Sans, sans-serif" font-size="5.7" font-weight="bold" fill="#2e2e2e" text-anchor="middle">15</text>
<text x="139.85" y="288.60" font-family="Liberation Sans, sans-serif" font-size="5.7" font-weight="bold" fill="#2e2e2e" text-anchor="middle">20</text>
<text x="168.24" y="288.60" font-family="Liberation Sans, sans-serif" font-size="5.7" font-weight="bold" fill="#2e2e2e" text-anchor="middle">25</text>
<text x="196.62" y="288.60" font-family="Liberation Sans, sans-serif" font-size="5.7" font-weight="bold" fill="#2e2e2e" text-anchor="middle">30</text>
<text x="225.01" y="288.60" font-family="Liberation Sans, sans-serif" font-size="5.7" font-weight="bold" fill="#2e2e2e" text-anchor="middle">35</text>
<text x="253.40" y="288.60" font-family="Liberation Sans, sans-serif" font-size="5.7" font-weight="bold" fill="#2e2e2e" text-anchor="middle">40</text>
<text x="24.70" y="248.30" font-family="Liberation Sans, sans-serif" font-size="5.7" font-weight="bold" fill="#2e2e2e" text-anchor="end">1</text>
<text x="24.70" y="277.10" font-family="Liberation Sans, sans-serif" font-size="5.7" font-weight="bold" fill="#2e2e2e" text-anchor="end">0.975</text>
<text x="229.60" y="255.85" font-family="Liberation Sans, sans-serif" font-size="5.9" font-weight="bold" fill="#111111" text-anchor="start" stroke="#111" stroke-width="0.25">DFCM</text>
<text x="26.30" y="336.70" font-family="Liberation Sans, sans-serif" font-size="5.7" font-weight="bold" fill="#2e2e2e" text-anchor="middle">0</text>
<text x="54.69" y="336.70" font-family="Liberation Sans, sans-serif" font-size="5.7" font-weight="bold" fill="#2e2e2e" text-anchor="middle">5</text>
<text x="83.08" y="336.70" font-family="Liberation Sans, sans-serif" font-size="5.7" font-weight="bold" fill="#2e2e2e" text-anchor="middle">10</text>
<text x="111.46" y="336.70" font-family="Liberation Sans, sans-serif" font-size="5.7" font-weight="bold" fill="#2e2e2e" text-anchor="middle">15</text>
<text x="139.85" y="336.70" font-family="Liberation Sans, sans-serif" font-size="5.7" font-weight="bold" fill="#2e2e2e" text-anchor="middle">20</text>
<text x="168.24" y="336.70" font-family="Liberation Sans, sans-serif" font-size="5.7" font-weight="bold" fill="#2e2e2e" text-anchor="middle">25</text>
<text x="196.62" y="336.70" font-family="Liberation Sans, sans-serif" font-size="5.7" font-weight="bold" fill="#2e2e2e" text-anchor="middle">30</text>
<text x="225.01" y="336.70" font-family="Liberation Sans, sans-serif" font-size="5.7" font-weight="bold" fill="#2e2e2e" text-anchor="middle">35</text>
<text x="253.40" y="336.70" font-family="Liberation Sans, sans-serif" font-size="5.7" font-weight="bold" fill="#2e2e2e" text-anchor="middle">40</text>
<text x="24.70" y="297.20" font-family="Liberation Sans, sans-serif" font-size="5.7" font-weight="bold" fill="#2e2e2e" text-anchor="end">1</text>
<text x="24.70" y="311.00" font-family="Liberation Sans, sans-serif" font-size="5.7" font-weight="bold" fill="#2e2e2e" text-anchor="end">0.8</text>
<text x="24.70" y="324.80" font-family="Liberation Sans, sans-serif" font-size="5.7" font-weight="bold" fill="#2e2e2e" text-anchor="end">0.6</text>
<text x="232.80" y="304.85" font-family="Liberation Sans, sans-serif" font-size="5.9" font-weight="bold" fill="#111111" text-anchor="start" stroke="#111" stroke-width="0.25">FCM</text>
<text x="26.30" y="385.70" font-family="Liberation Sans, sans-serif" font-size="5.7" font-weight="bold" fill="#2e2e2e" text-anchor="middle">0</text>
<text x="54.69" y="385.70" font-family="Liberation Sans, sans-serif" font-size="5.7" font-weight="bold" fill="#2e2e2e" text-anchor="middle">5</text>
<text x="83.08" y="385.70" font-family="Liberation Sans, sans-serif" font-size="5.7" font-weight="bold" fill="#2e2e2e" text-anchor="middle">10</text>
<text x="111.46" y="385.70" font-family="Liberation Sans, sans-serif" font-size="5.7" font-weight="bold" fill="#2e2e2e" text-anchor="middle">15</text>
<text x="139.85" y="385.70" font-family="Liberation Sans, sans-serif" font-size="5.7" font-weight="bold" fill="#2e2e2e" text-anchor="middle">20</text>
<text x="168.24" y="385.70" font-family="Liberation Sans, sans-serif" font-size="5.7" font-weight="bold" fill="#2e2e2e" text-anchor="middle">25</text>
<text x="196.62" y="385.70" font-family="Liberation Sans, sans-serif" font-size="5.7" font-weight="bold" fill="#2e2e2e" text-anchor="middle">30</text>
<text x="225.01" y="385.70" font-family="Liberation Sans, sans-serif" font-size="5.7" font-weight="bold" fill="#2e2e2e" text-anchor="middle">35</text>
<text x="253.40" y="385.70" font-family="Liberation Sans, sans-serif" font-size="5.7" font-weight="bold" fill="#2e2e2e" text-anchor="middle">40</text>
<text x="24.70" y="345.60" font-family="Liberation Sans, sans-serif" font-size="5.7" font-weight="bold" fill="#2e2e2e" text-anchor="end">1</text>
<text x="24.70" y="369.90" font-family="Liberation Sans, sans-serif" font-size="5.7" font-weight="bold" fill="#2e2e2e" text-anchor="end">0.5</text>
<text x="229.60" y="353.15" font-family="Liberation Sans, sans-serif" font-size="5.9" font-weight="bold" fill="#111111" text-anchor="start" stroke="#111" stroke-width="0.25">CFCM</text>
<text x="26.30" y="433.90" font-family="Liberation Sans, sans-serif" font-size="5.7" font-weight="bold" fill="#2e2e2e" text-anchor="middle">0</text>
<text x="54.69" y="433.90" font-family="Liberation Sans, sans-serif" font-size="5.7" font-weight="bold" fill="#2e2e2e" text-anchor="middle">5</text>
<text x="83.08" y="433.90" font-family="Liberation Sans, sans-serif" font-size="5.7" font-weight="bold" fill="#2e2e2e" text-anchor="middle">10</text>
<text x="111.46" y="433.90" font-family="Liberation Sans, sans-serif" font-size="5.7" font-weight="bold" fill="#2e2e2e" text-anchor="middle">15</text>
<text x="139.85" y="433.90" font-family="Liberation Sans, sans-serif" font-size="5.7" font-weight="bold" fill="#2e2e2e" text-anchor="middle">20</text>
<text x="168.24" y="433.90" font-family="Liberation Sans, sans-serif" font-size="5.7" font-weight="bold" fill="#2e2e2e" text-anchor="middle">25</text>
<text x="196.62" y="433.90" font-family="Liberation Sans, sans-serif" font-size="5.7" font-weight="bold" fill="#2e2e2e" text-anchor="middle">30</text>
<text x="225.01" y="433.90" font-family="Liberation Sans, sans-serif" font-size="5.7" font-weight="bold" fill="#2e2e2e" text-anchor="middle">35</text>
<text x="253.40" y="433.90" font-family="Liberation Sans, sans-serif" font-size="5.7" font-weight="bold" fill="#2e2e2e" text-anchor="middle">40</text>
<text x="24.70" y="394.10" font-family="Liberation Sans, sans-serif" font-size="5.7" font-weight="bold" fill="#2e2e2e" text-anchor="end">1</text>
<text x="24.70" y="416.20" font-family="Liberation Sans, sans-serif" font-size="5.7" font-weight="bold" fill="#2e2e2e" text-anchor="end">0.995</text>
<text x="232.80" y="401.30" font-family="Liberation Sans, sans-serif" font-size="5.9" font-weight="bold" fill="#111111" text-anchor="start" stroke="#111" stroke-width="0.25">PCM</text>
<text x="139.70" y="441.60" font-family="Liberation Sans, sans-serif" font-size="6.6" font-weight="normal" fill="#111111" text-anchor="middle" stroke="#111111" stroke-width="0.2">iteration times</text>
<text x="314.40" y="289.30" font-family="Liberation Sans, sans-serif" font-size="5.7" font-weight="bold" fill="#2e2e2e" text-anchor="middle">0</text>
<text x="342.80" y="289.30" font-family="Liberation Sans, sans-serif" font-size="5.7" font-weight="bold" fill="#2e2e2e" text-anchor="middle">5</text>
<text x="371.20" y="289.30" font-family="Liberation Sans, sans-serif" font-size="5.7" font-weight="bold" fill="#2e2e2e" text-anchor="middle">10</text>
<text x="399.60" y="289.30" font-family="Liberation Sans, sans-serif" font-size="5.7" font-weight="bold" fill="#2e2e2e" text-anchor="middle">15</text>
<text x="428.00" y="289.30" font-family="Liberation Sans, sans-serif" font-size="5.7" font-weight="bold" fill="#2e2e2e" text-anchor="middle">20</text>
<text x="456.40" y="289.30" font-family="Liberation Sans, sans-serif" font-size="5.7" font-weight="bold" fill="#2e2e2e" text-anchor="middle">25</text>
<text x="484.80" y="289.30" font-family="Liberation Sans, sans-serif" font-size="5.7" font-weight="bold" fill="#2e2e2e" text-anchor="middle">30</text>
<text x="513.20" y="289.30" font-family="Liberation Sans, sans-serif" font-size="5.7" font-weight="bold" fill="#2e2e2e" text-anchor="middle">35</text>
<text x="541.60" y="289.30" font-family="Liberation Sans, sans-serif" font-size="5.7" font-weight="bold" fill="#2e2e2e" text-anchor="middle">40</text>
<text x="312.80" y="248.40" font-family="Liberation Sans, sans-serif" font-size="5.7" font-weight="bold" fill="#2e2e2e" text-anchor="end">1</text>
<text x="312.80" y="279.90" font-family="Liberation Sans, sans-serif" font-size="5.7" font-weight="bold" fill="#2e2e2e" text-anchor="end">0.995</text>
<text x="517.40" y="256.15" font-family="Liberation Sans, sans-serif" font-size="5.9" font-weight="bold" fill="#111111" text-anchor="start" stroke="#111" stroke-width="0.25">DFCM</text>
<text x="314.40" y="338.00" font-family="Liberation Sans, sans-serif" font-size="5.7" font-weight="bold" fill="#2e2e2e" text-anchor="middle">0</text>
<text x="342.80" y="338.00" font-family="Liberation Sans, sans-serif" font-size="5.7" font-weight="bold" fill="#2e2e2e" text-anchor="middle">5</text>
<text x="371.20" y="338.00" font-family="Liberation Sans, sans-serif" font-size="5.7" font-weight="bold" fill="#2e2e2e" text-anchor="middle">10</text>
<text x="399.60" y="338.00" font-family="Liberation Sans, sans-serif" font-size="5.7" font-weight="bold" fill="#2e2e2e" text-anchor="middle">15</text>
<text x="428.00" y="338.00" font-family="Liberation Sans, sans-serif" font-size="5.7" font-weight="bold" fill="#2e2e2e" text-anchor="middle">20</text>
<text x="456.40" y="338.00" font-family="Liberation Sans, sans-serif" font-size="5.7" font-weight="bold" fill="#2e2e2e" text-anchor="middle">25</text>
<text x="484.80" y="338.00" font-family="Liberation Sans, sans-serif" font-size="5.7" font-weight="bold" fill="#2e2e2e" text-anchor="middle">30</text>
<text x="513.20" y="338.00" font-family="Liberation Sans, sans-serif" font-size="5.7" font-weight="bold" fill="#2e2e2e" text-anchor="middle">35</text>
<text x="541.60" y="338.00" font-family="Liberation Sans, sans-serif" font-size="5.7" font-weight="bold" fill="#2e2e2e" text-anchor="middle">40</text>
<text x="312.80" y="297.70" font-family="Liberation Sans, sans-serif" font-size="5.7" font-weight="bold" fill="#2e2e2e" text-anchor="end">1</text>
<text x="312.80" y="319.30" font-family="Liberation Sans, sans-serif" font-size="5.7" font-weight="bold" fill="#2e2e2e" text-anchor="end">0.5</text>
<text x="521.00" y="305.00" font-family="Liberation Sans, sans-serif" font-size="5.9" font-weight="bold" fill="#111111" text-anchor="start" stroke="#111" stroke-width="0.25">FCM</text>
<text x="314.40" y="386.30" font-family="Liberation Sans, sans-serif" font-size="5.7" font-weight="bold" fill="#2e2e2e" text-anchor="middle">0</text>
<text x="342.80" y="386.30" font-family="Liberation Sans, sans-serif" font-size="5.7" font-weight="bold" fill="#2e2e2e" text-anchor="middle">5</text>
<text x="371.20" y="386.30" font-family="Liberation Sans, sans-serif" font-size="5.7" font-weight="bold" fill="#2e2e2e" text-anchor="middle">10</text>
<text x="399.60" y="386.30" font-family="Liberation Sans, sans-serif" font-size="5.7" font-weight="bold" fill="#2e2e2e" text-anchor="middle">15</text>
<text x="428.00" y="386.30" font-family="Liberation Sans, sans-serif" font-size="5.7" font-weight="bold" fill="#2e2e2e" text-anchor="middle">20</text>
<text x="456.40" y="386.30" font-family="Liberation Sans, sans-serif" font-size="5.7" font-weight="bold" fill="#2e2e2e" text-anchor="middle">25</text>
<text x="484.80" y="386.30" font-family="Liberation Sans, sans-serif" font-size="5.7" font-weight="bold" fill="#2e2e2e" text-anchor="middle">30</text>
<text x="513.20" y="386.30" font-family="Liberation Sans, sans-serif" font-size="5.7" font-weight="bold" fill="#2e2e2e" text-anchor="middle">35</text>
<text x="541.60" y="386.30" font-family="Liberation Sans, sans-serif" font-size="5.7" font-weight="bold" fill="#2e2e2e" text-anchor="middle">40</text>
<text x="312.80" y="346.30" font-family="Liberation Sans, sans-serif" font-size="5.7" font-weight="bold" fill="#2e2e2e" text-anchor="end">1</text>
<text x="312.80" y="368.30" font-family="Liberation Sans, sans-serif" font-size="5.7" font-weight="bold" fill="#2e2e2e" text-anchor="end">0.5</text>
<text x="517.40" y="353.70" font-family="Liberation Sans, sans-serif" font-size="5.9" font-weight="bold" fill="#111111" text-anchor="start" stroke="#111" stroke-width="0.25">CFCM</text>
<text x="314.40" y="434.90" font-family="Liberation Sans, sans-serif" font-size="5.7" font-weight="bold" fill="#2e2e2e" text-anchor="middle">0</text>
<text x="342.80" y="434.90" font-family="Liberation Sans, sans-serif" font-size="5.7" font-weight="bold" fill="#2e2e2e" text-anchor="middle">5</text>
<text x="371.20" y="434.90" font-family="Liberation Sans, sans-serif" font-size="5.7" font-weight="bold" fill="#2e2e2e" text-anchor="middle">10</text>
<text x="399.60" y="434.90" font-family="Liberation Sans, sans-serif" font-size="5.7" font-weight="bold" fill="#2e2e2e" text-anchor="middle">15</text>
<text x="428.00" y="434.90" font-family="Liberation Sans, sans-serif" font-size="5.7" font-weight="bold" fill="#2e2e2e" text-anchor="middle">20</text>
<text x="456.40" y="434.90" font-family="Liberation Sans, sans-serif" font-size="5.7" font-weight="bold" fill="#2e2e2e" text-anchor="middle">25</text>
<text x="484.80" y="434.90" font-family="Liberation Sans, sans-serif" font-size="5.7" font-weight="bold" fill="#2e2e2e" text-anchor="middle">30</text>
<text x="513.20" y="434.90" font-family="Liberation Sans, sans-serif" font-size="5.7" font-weight="bold" fill="#2e2e2e" text-anchor="middle">35</text>
<text x="541.60" y="434.90" font-family="Liberation Sans, sans-serif" font-size="5.7" font-weight="bold" fill="#2e2e2e" text-anchor="middle">40</text>
<text x="312.80" y="394.60" font-family="Liberation Sans, sans-serif" font-size="5.7" font-weight="bold" fill="#2e2e2e" text-anchor="end">1</text>
<text x="312.80" y="420.80" font-family="Liberation Sans, sans-serif" font-size="5.7" font-weight="bold" fill="#2e2e2e" text-anchor="end">0.9995</text>
<text x="521.00" y="401.90" font-family="Liberation Sans, sans-serif" font-size="5.9" font-weight="bold" fill="#111111" text-anchor="start" stroke="#111" stroke-width="0.25">PCM</text>
<text x="428.00" y="442.50" font-family="Liberation Sans, sans-serif" font-size="6.6" font-weight="normal" fill="#111111" text-anchor="middle" stroke="#111111" stroke-width="0.2">iteration times</text>
<text x="0" y="0" transform="translate(9.10,102.40) rotate(-90)" font-family="Liberation Sans, sans-serif" font-size="6.7" font-weight="normal" fill="#111111" text-anchor="middle" stroke="#111111" stroke-width="0.2">objective function values</text>
<text x="0" y="0" transform="translate(296.80,100.80) rotate(-90)" font-family="Liberation Sans, sans-serif" font-size="6.7" font-weight="normal" fill="#111111" text-anchor="middle" stroke="#111111" stroke-width="0.2">objective function values</text>
<text x="0" y="0" transform="translate(8.30,342.20) rotate(-90)" font-family="Liberation Sans, sans-serif" font-size="6.7" font-weight="normal" fill="#111111" text-anchor="middle" stroke="#111111" stroke-width="0.2">objective function values</text>
<text x="0" y="0" transform="translate(298.20,343.60) rotate(-90)" font-family="Liberation Sans, sans-serif" font-size="6.7" font-weight="normal" fill="#111111" text-anchor="middle" stroke="#111111" stroke-width="0.2">objective function values</text>
<text x="99.30" y="228.70" font-family="Liberation Serif, serif" font-size="16.4" letter-spacing="0.3" fill="#000" stroke="#000" stroke-width="0.3">(<tspan font-weight="bold">a</tspan>) Set 1.</text>
<text x="388.20" y="228.60" font-family="Liberation Serif, serif" font-size="16.4" letter-spacing="0.3" fill="#000" stroke="#000" stroke-width="0.3">(<tspan font-weight="bold">b</tspan>) Set 2.</text>
<text x="100.00" y="466.60" font-family="Liberation Serif, serif" font-size="16.4" letter-spacing="0.3" fill="#000" stroke="#000" stroke-width="0.3">(<tspan font-weight="bold">c</tspan>) Set 3.</text>
<text x="388.20" y="466.80" font-family="Liberation Serif, serif" font-size="16.4" letter-spacing="0.3" fill="#000" stroke="#000" stroke-width="0.3">(<tspan font-weight="bold">d</tspan>) Set 4.</text>
</g>
</svg>
</body></html>
